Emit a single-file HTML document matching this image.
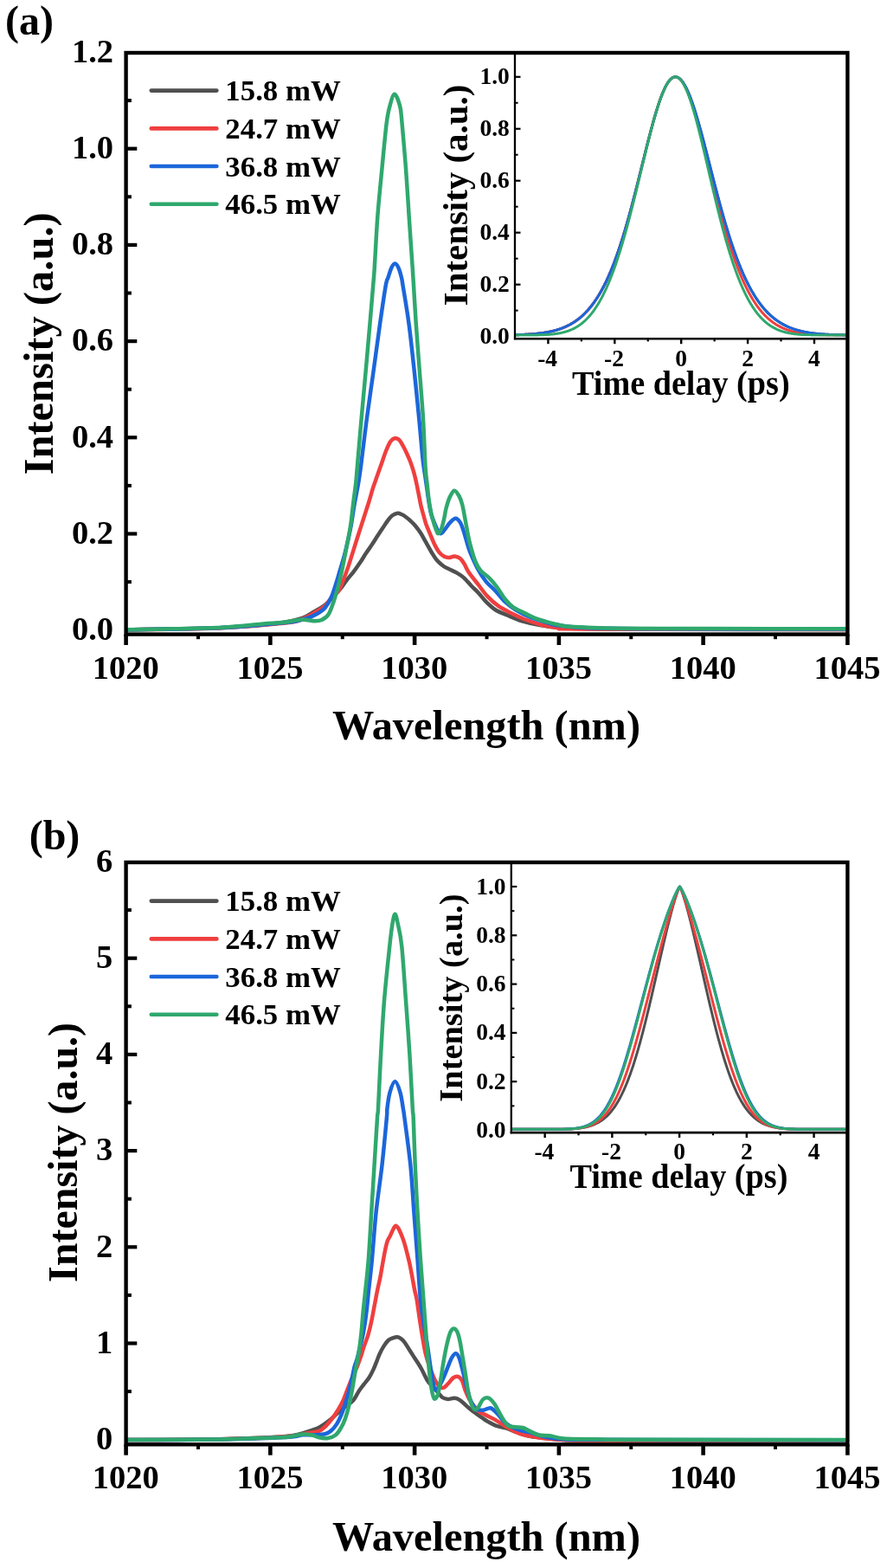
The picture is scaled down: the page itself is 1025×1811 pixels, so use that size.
<!DOCTYPE html>
<html><head><meta charset="utf-8"><title>Figure</title>
<style>html,body{margin:0;padding:0;background:#fff;width:1025px;height:1811px;overflow:hidden}svg{display:block}</style>
</head><body>
<svg width="1025" height="1811" viewBox="0 0 1025 1811" font-family="'Liberation Serif','Times New Roman',serif" font-weight="bold" fill="#000"><rect width="1025" height="1811" fill="#fff"/>
<path d="M147.00,727.30 C164.17,726.97 223.67,726.27 250.00,725.30 C276.33,724.33 291.67,722.63 305.00,721.50 C318.33,720.37 322.50,719.83 330.00,718.50 C337.50,717.17 344.67,715.42 350.00,713.50 C355.33,711.58 357.85,709.37 362.00,707.00 C366.15,704.63 370.67,702.67 374.90,699.30 C379.13,695.93 384.00,690.43 387.40,686.80 C390.80,683.17 393.03,680.38 395.30,677.50 C397.57,674.62 398.82,672.32 401.00,669.50 C403.18,666.68 405.77,664.05 408.40,660.60 C411.03,657.15 414.43,652.32 416.80,648.80 C419.17,645.28 420.48,642.70 422.60,639.50 C424.72,636.30 427.20,633.05 429.50,629.60 C431.80,626.15 434.15,622.27 436.40,618.80 C438.65,615.33 441.02,611.77 443.00,608.80 C444.98,605.83 446.55,603.25 448.30,601.00 C450.05,598.75 451.63,596.67 453.50,595.30 C455.37,593.93 457.67,592.97 459.50,592.80 C461.33,592.63 463.00,593.63 464.50,594.30 C466.00,594.97 466.97,595.68 468.50,596.80 C470.03,597.92 471.80,599.27 473.70,601.00 C475.60,602.73 477.82,604.73 479.90,607.20 C481.98,609.67 484.12,612.55 486.20,615.80 C488.28,619.05 490.33,623.05 492.40,626.70 C494.47,630.35 496.52,634.32 498.60,637.70 C500.68,641.08 502.55,644.28 504.90,647.00 C507.25,649.72 510.10,652.17 512.70,654.00 C515.30,655.83 517.90,656.68 520.50,658.00 C523.10,659.32 525.70,660.35 528.30,661.90 C530.90,663.45 533.32,664.78 536.10,667.30 C538.88,669.82 542.28,674.18 545.00,677.00 C547.72,679.82 549.60,681.17 552.40,684.20 C555.20,687.23 558.42,691.82 561.80,695.20 C565.18,698.58 568.53,701.90 572.70,704.50 C576.87,707.10 581.85,708.72 586.80,710.80 C591.75,712.88 596.42,715.18 602.40,717.00 C608.38,718.82 615.42,720.40 622.70,721.70 C629.98,723.00 636.55,724.03 646.10,724.80 C655.65,725.57 662.68,725.97 680.00,726.30 C697.32,726.63 700.17,726.68 750.00,726.80 C799.83,726.92 940.83,726.97 979.00,727.00" fill="none" stroke="#505050" stroke-width="4.5" stroke-linejoin="round" stroke-linecap="round"/>
<path d="M147.00,727.30 C164.17,727.00 219.50,726.80 250.00,725.50 C280.50,724.20 313.33,721.33 330.00,719.50 C346.67,717.67 344.35,716.52 350.00,714.50 C355.65,712.48 359.63,709.88 363.90,707.40 C368.17,704.92 372.25,702.67 375.60,699.60 C378.95,696.53 381.40,691.85 384.00,689.00 C386.60,686.15 389.08,685.67 391.20,682.50 C393.32,679.33 394.87,674.57 396.70,670.00 C398.53,665.43 400.25,660.83 402.20,655.10 C404.15,649.37 406.55,641.45 408.40,635.60 C410.25,629.75 411.23,626.47 413.30,620.00 C415.37,613.53 418.60,603.63 420.80,596.80 C423.00,589.97 424.78,584.58 426.50,579.00 C428.22,573.42 429.53,568.20 431.10,563.30 C432.67,558.40 434.30,554.15 435.90,549.60 C437.50,545.05 439.10,540.55 440.70,536.00 C442.30,531.45 443.90,526.40 445.50,522.30 C447.10,518.20 448.93,513.90 450.30,511.40 C451.67,508.90 452.45,508.15 453.70,507.30 C454.95,506.45 456.43,506.07 457.80,506.30 C459.17,506.53 460.53,507.17 461.90,508.70 C463.27,510.23 464.63,513.00 466.00,515.50 C467.37,518.00 468.73,520.73 470.10,523.70 C471.47,526.67 472.92,529.88 474.20,533.30 C475.48,536.72 476.70,540.42 477.80,544.20 C478.90,547.98 479.77,551.42 480.80,556.00 C481.83,560.58 483.08,567.13 484.00,571.70 C484.92,576.27 485.40,579.50 486.30,583.40 C487.20,587.30 488.42,591.52 489.40,595.10 C490.38,598.68 491.08,601.65 492.20,604.90 C493.32,608.15 494.97,611.83 496.10,614.60 C497.23,617.37 497.93,619.02 499.00,621.50 C500.07,623.98 501.15,626.87 502.50,629.50 C503.85,632.13 505.30,635.08 507.10,637.30 C508.90,639.52 511.23,641.68 513.30,642.80 C515.37,643.92 517.45,644.07 519.50,644.00 C521.55,643.93 523.55,642.22 525.60,642.40 C527.65,642.58 529.98,643.62 531.80,645.10 C533.62,646.58 534.88,648.68 536.50,651.30 C538.12,653.92 538.85,656.87 541.50,660.80 C544.15,664.73 548.75,670.22 552.40,674.90 C556.05,679.58 559.48,684.73 563.40,688.90 C567.32,693.07 571.48,696.77 575.90,699.90 C580.32,703.03 584.70,705.10 589.90,707.70 C595.10,710.30 601.12,713.17 607.10,715.50 C613.08,717.83 619.30,720.02 625.80,721.70 C632.30,723.38 637.07,724.80 646.10,725.60 C655.13,726.40 624.52,726.27 680.00,726.50 C735.48,726.73 929.17,726.92 979.00,727.00" fill="none" stroke="#ef3f3f" stroke-width="4.5" stroke-linejoin="round" stroke-linecap="round"/>
<path d="M147.00,727.30 C164.17,726.97 219.50,726.68 250.00,725.30 C280.50,723.92 313.33,720.63 330.00,719.00 C346.67,717.37 345.00,716.65 350.00,715.50 C355.00,714.35 357.03,713.32 360.00,712.10 C362.97,710.88 365.20,709.88 367.80,708.20 C370.40,706.52 373.13,704.98 375.60,702.00 C378.07,699.02 380.52,694.87 382.60,690.30 C384.68,685.73 386.40,679.82 388.10,674.60 C389.80,669.38 391.10,664.77 392.80,659.00 C394.50,653.23 396.63,646.33 398.30,640.00 C399.97,633.67 401.52,626.83 402.80,621.00 C404.08,615.17 404.83,611.63 406.00,605.00 C407.17,598.37 408.50,588.70 409.80,581.20 C411.10,573.70 412.60,567.10 413.80,560.00 C415.00,552.90 415.33,551.27 417.00,538.60 C418.67,525.93 421.38,502.22 423.80,484.00 C426.22,465.78 428.97,447.53 431.50,429.30 C434.03,411.07 436.63,391.15 439.00,374.60 C441.37,358.05 444.08,339.10 445.70,330.00 C447.32,320.90 447.57,323.50 448.70,320.00 C449.83,316.50 451.22,311.58 452.50,309.00 C453.78,306.42 455.10,304.50 456.40,304.50 C457.70,304.50 459.07,306.42 460.30,309.00 C461.53,311.58 462.92,316.50 463.80,320.00 C464.68,323.50 464.13,320.90 465.60,330.00 C467.07,339.10 470.40,358.05 472.60,374.60 C474.80,391.15 476.85,411.07 478.80,429.30 C480.75,447.53 482.68,467.22 484.30,484.00 C485.92,500.78 487.33,519.00 488.50,530.00 C489.67,541.00 490.45,544.00 491.30,550.00 C492.15,556.00 492.85,560.83 493.60,566.00 C494.35,571.17 495.02,576.33 495.80,581.00 C496.58,585.67 497.30,590.25 498.30,594.00 C499.30,597.75 500.68,600.67 501.80,603.50 C502.92,606.33 503.77,608.87 505.00,611.00 C506.23,613.13 507.63,616.30 509.20,616.30 C510.77,616.30 512.57,613.15 514.40,611.00 C516.23,608.85 518.20,605.45 520.20,603.40 C522.20,601.35 524.47,598.70 526.40,598.70 C528.33,598.70 530.25,600.95 531.80,603.40 C533.35,605.85 534.40,609.53 535.70,613.40 C537.00,617.27 538.37,622.60 539.60,626.60 C540.83,630.60 540.97,632.22 543.10,637.40 C545.23,642.58 549.28,651.97 552.40,657.70 C555.52,663.43 558.42,667.63 561.80,671.80 C565.18,675.97 569.05,678.80 572.70,682.70 C576.35,686.60 579.80,691.57 583.70,695.20 C587.60,698.83 591.42,701.65 596.10,704.50 C600.78,707.35 606.07,709.95 611.80,712.30 C617.53,714.65 624.78,716.90 630.50,718.60 C636.22,720.30 637.85,721.38 646.10,722.50 C654.35,723.62 662.68,724.67 680.00,725.30 C697.32,725.93 700.17,726.08 750.00,726.30 C799.83,726.52 940.83,726.55 979.00,726.60" fill="none" stroke="#1c66da" stroke-width="4.5" stroke-linejoin="round" stroke-linecap="round"/>
<path d="M147.00,727.30 C155.83,727.12 182.83,726.57 200.00,726.20 C217.17,725.83 236.47,725.68 250.00,725.10 C263.53,724.52 272.10,723.48 281.20,722.70 C290.30,721.92 296.80,721.05 304.60,720.40 C312.40,719.75 320.97,719.58 328.00,718.80 C335.03,718.02 342.13,716.12 346.80,715.70 C351.47,715.28 353.13,716.03 356.00,716.30 C358.87,716.57 361.38,717.35 364.00,717.30 C366.62,717.25 369.12,717.25 371.70,716.00 C374.28,714.75 377.15,713.43 379.50,709.80 C381.85,706.17 383.98,699.42 385.80,694.20 C387.62,688.98 388.85,684.37 390.40,678.50 C391.95,672.63 393.67,665.50 395.10,659.00 C396.53,652.50 397.72,646.00 399.00,639.50 C400.28,633.00 401.73,625.75 402.80,620.00 C403.87,614.25 404.50,611.47 405.40,605.00 C406.30,598.53 407.23,589.03 408.20,581.20 C409.17,573.37 410.42,565.10 411.20,558.00 C411.98,550.90 411.83,550.93 412.90,538.60 C413.97,526.27 415.98,502.22 417.60,484.00 C419.22,465.78 420.97,447.53 422.60,429.30 C424.23,411.07 425.83,392.82 427.40,374.60 C428.97,356.38 431.03,332.10 432.00,320.00 C432.97,307.90 432.47,313.83 433.20,302.00 C433.93,290.17 435.05,266.67 436.40,249.00 C437.75,231.33 439.60,213.67 441.30,196.00 C443.00,178.33 445.10,155.15 446.60,143.00 C448.10,130.85 448.75,128.80 450.30,123.10 C451.85,117.40 453.90,108.80 455.90,108.80 C457.90,108.80 460.85,117.40 462.30,123.10 C463.75,128.80 463.47,130.85 464.60,143.00 C465.73,155.15 467.77,178.33 469.10,196.00 C470.43,213.67 471.42,231.33 472.60,249.00 C473.78,266.67 475.40,290.17 476.20,302.00 C477.00,313.83 476.63,307.90 477.40,320.00 C478.17,332.10 479.55,356.38 480.80,374.60 C482.05,392.82 483.53,411.07 484.90,429.30 C486.27,447.53 487.88,465.55 489.00,484.00 C490.12,502.45 490.82,527.33 491.60,540.00 C492.38,552.67 493.15,554.72 493.70,560.00 C494.25,565.28 494.43,567.80 494.90,571.70 C495.37,575.60 495.85,579.50 496.50,583.40 C497.15,587.30 497.97,591.52 498.80,595.10 C499.63,598.68 500.58,601.97 501.50,604.90 C502.42,607.83 503.48,610.82 504.30,612.70 C505.12,614.58 505.43,616.53 506.40,616.20 C507.37,615.87 508.97,613.57 510.10,610.70 C511.23,607.83 512.30,602.90 513.20,599.00 C514.10,595.10 514.45,591.33 515.50,587.30 C516.55,583.27 517.93,578.23 519.50,574.80 C521.07,571.37 523.10,567.08 524.90,566.70 C526.70,566.32 528.77,569.87 530.30,572.50 C531.83,575.13 532.95,578.25 534.10,582.50 C535.25,586.75 536.22,592.85 537.20,598.00 C538.18,603.15 539.02,608.40 540.00,613.40 C540.98,618.40 541.55,622.18 543.10,628.00 C544.65,633.82 547.22,643.08 549.30,648.30 C551.38,653.52 553.00,656.17 555.60,659.30 C558.20,662.43 561.78,663.98 564.90,667.10 C568.02,670.22 571.17,673.85 574.30,678.00 C577.43,682.15 580.58,688.10 583.70,692.00 C586.82,695.90 589.37,698.78 593.00,701.40 C596.63,704.02 601.33,705.62 605.50,707.70 C609.67,709.78 613.83,712.22 618.00,713.90 C622.17,715.58 625.82,716.50 630.50,717.80 C635.18,719.10 642.00,720.73 646.10,721.70 C650.20,722.67 649.70,723.10 655.10,723.60 C660.50,724.10 668.08,724.35 678.50,724.70 C688.92,725.05 694.85,725.47 717.60,725.70 C740.35,725.93 771.43,726.00 815.00,726.10 C858.57,726.20 951.67,726.27 979.00,726.30" fill="none" stroke="#2fa86e" stroke-width="4.5" stroke-linejoin="round" stroke-linecap="round"/>
<rect x="595.00" y="61.00" width="384.40" height="330.20" fill="#fff"/>
<path d="M595.00,386.77 L595.48,386.75 L595.96,386.74 L596.44,386.73 L596.92,386.72 L597.40,386.70 L597.88,386.69 L598.36,386.68 L598.84,386.66 L599.32,386.65 L599.81,386.63 L600.29,386.61 L600.77,386.60 L601.25,386.58 L601.73,386.56 L602.21,386.55 L602.69,386.53 L603.17,386.51 L603.65,386.49 L604.13,386.47 L604.61,386.45 L605.09,386.43 L605.57,386.41 L606.05,386.38 L606.53,386.36 L607.01,386.34 L607.49,386.31 L607.97,386.29 L608.45,386.26 L608.93,386.24 L609.42,386.21 L609.90,386.18 L610.38,386.15 L610.86,386.12 L611.34,386.09 L611.82,386.06 L612.30,386.03 L612.78,386.00 L613.26,385.96 L613.74,385.93 L614.22,385.90 L614.70,385.86 L615.18,385.82 L615.66,385.78 L616.14,385.75 L616.62,385.71 L617.10,385.66 L617.58,385.62 L618.06,385.58 L618.54,385.54 L619.03,385.49 L619.51,385.44 L619.99,385.40 L620.47,385.35 L620.95,385.30 L621.43,385.25 L621.91,385.19 L622.39,385.14 L622.87,385.08 L623.35,385.03 L623.83,384.97 L624.31,384.91 L624.79,384.85 L625.27,384.79 L625.75,384.73 L626.23,384.66 L626.71,384.59 L627.19,384.53 L627.67,384.46 L628.15,384.39 L628.63,384.31 L629.12,384.24 L629.60,384.16 L630.08,384.09 L630.56,384.01 L631.04,383.92 L631.52,383.84 L632.00,383.76 L632.48,383.67 L632.96,383.58 L633.44,383.49 L633.92,383.40 L634.40,383.30 L634.88,383.20 L635.36,383.10 L635.84,383.00 L636.32,382.90 L636.80,382.79 L637.28,382.69 L637.76,382.58 L638.25,382.46 L638.73,382.35 L639.21,382.23 L639.69,382.11 L640.17,381.99 L640.65,381.86 L641.13,381.73 L641.61,381.60 L642.09,381.47 L642.57,381.33 L643.05,381.20 L643.53,381.05 L644.01,380.91 L644.49,380.76 L644.97,380.61 L645.45,380.46 L645.93,380.30 L646.41,380.14 L646.89,379.98 L647.37,379.81 L647.86,379.64 L648.34,379.47 L648.82,379.30 L649.30,379.12 L649.78,378.93 L650.26,378.75 L650.74,378.56 L651.22,378.36 L651.70,378.16 L652.18,377.96 L652.66,377.76 L653.14,377.55 L653.62,377.34 L654.10,377.12 L654.58,376.90 L655.06,376.67 L655.54,376.44 L656.02,376.21 L656.50,375.97 L656.98,375.73 L657.47,375.48 L657.95,375.23 L658.43,374.97 L658.91,374.71 L659.39,374.44 L659.87,374.17 L660.35,373.90 L660.83,373.62 L661.31,373.33 L661.79,373.04 L662.27,372.74 L662.75,372.44 L663.23,372.14 L663.71,371.82 L664.19,371.51 L664.67,371.18 L665.15,370.86 L665.63,370.52 L666.11,370.18 L666.59,369.84 L667.08,369.48 L667.56,369.13 L668.04,368.76 L668.52,368.39 L669.00,368.01 L669.48,367.63 L669.96,367.24 L670.44,366.85 L670.92,366.44 L671.40,366.03 L671.88,365.62 L672.36,365.19 L672.84,364.76 L673.32,364.33 L673.80,363.88 L674.28,363.43 L674.76,362.97 L675.24,362.50 L675.72,362.03 L676.20,361.55 L676.69,361.06 L677.17,360.56 L677.65,360.06 L678.13,359.54 L678.61,359.02 L679.09,358.49 L679.57,357.96 L680.05,357.41 L680.53,356.85 L681.01,356.29 L681.49,355.72 L681.97,355.14 L682.45,354.55 L682.93,353.95 L683.41,353.34 L683.89,352.72 L684.37,352.10 L684.85,351.46 L685.33,350.82 L685.81,350.16 L686.30,349.50 L686.78,348.82 L687.26,348.14 L687.74,347.44 L688.22,346.74 L688.70,346.03 L689.18,345.30 L689.66,344.56 L690.14,343.82 L690.62,343.06 L691.10,342.29 L691.58,341.52 L692.06,340.73 L692.54,339.93 L693.02,339.11 L693.50,338.29 L693.98,337.46 L694.46,336.61 L694.94,335.76 L695.42,334.89 L695.91,334.01 L696.39,333.11 L696.87,332.21 L697.35,331.29 L697.83,330.37 L698.31,329.42 L698.79,328.47 L699.27,327.51 L699.75,326.53 L700.23,325.54 L700.71,324.54 L701.19,323.52 L701.67,322.49 L702.15,321.45 L702.63,320.40 L703.11,319.33 L703.59,318.25 L704.07,317.16 L704.55,316.05 L705.03,314.93 L705.52,313.80 L706.00,312.65 L706.48,311.49 L706.96,310.31 L707.44,309.13 L707.92,307.93 L708.40,306.71 L708.88,305.48 L709.36,304.24 L709.84,302.98 L710.32,301.71 L710.80,300.43 L711.28,299.13 L711.76,297.82 L712.24,296.49 L712.72,295.15 L713.20,293.80 L713.68,292.43 L714.16,291.05 L714.64,289.66 L715.12,288.25 L715.61,286.83 L716.09,285.39 L716.57,283.94 L717.05,282.47 L717.53,280.99 L718.01,279.50 L718.49,278.00 L718.97,276.48 L719.45,274.95 L719.93,273.40 L720.41,271.84 L720.89,270.27 L721.37,268.68 L721.85,267.08 L722.33,265.47 L722.81,263.84 L723.29,262.21 L723.77,260.56 L724.25,258.89 L724.74,257.22 L725.22,255.53 L725.70,253.83 L726.18,252.12 L726.66,250.40 L727.14,248.66 L727.62,246.92 L728.10,245.16 L728.58,243.40 L729.06,241.62 L729.54,239.83 L730.02,238.03 L730.50,236.22 L730.98,234.41 L731.46,232.58 L731.94,230.74 L732.42,228.90 L732.90,227.05 L733.38,225.19 L733.86,223.32 L734.35,221.44 L734.83,219.56 L735.31,217.67 L735.79,215.77 L736.27,213.87 L736.75,211.96 L737.23,210.05 L737.71,208.14 L738.19,206.21 L738.67,204.29 L739.15,202.36 L739.63,200.43 L740.11,198.50 L740.59,196.56 L741.07,194.62 L741.55,192.68 L742.03,190.75 L742.51,188.81 L742.99,186.87 L743.47,184.93 L743.96,183.00 L744.44,181.06 L744.92,179.13 L745.40,177.21 L745.88,175.28 L746.36,173.37 L746.84,171.45 L747.32,169.54 L747.80,167.64 L748.28,165.75 L748.76,163.86 L749.24,161.98 L749.72,160.12 L750.20,158.26 L750.68,156.41 L751.16,154.57 L751.64,152.74 L752.12,150.93 L752.60,149.12 L753.08,147.34 L753.57,145.56 L754.05,143.80 L754.53,142.06 L755.01,140.33 L755.49,138.62 L755.97,136.93 L756.45,135.26 L756.93,133.60 L757.41,131.97 L757.89,130.36 L758.37,128.76 L758.85,127.19 L759.33,125.64 L759.81,124.12 L760.29,122.62 L760.77,121.14 L761.25,119.69 L761.73,118.26 L762.21,116.87 L762.69,115.49 L763.18,114.15 L763.66,112.84 L764.14,111.55 L764.62,110.29 L765.10,109.07 L765.58,107.87 L766.06,106.71 L766.54,105.58 L767.02,104.48 L767.50,103.42 L767.98,102.39 L768.46,101.39 L768.94,100.43 L769.42,99.50 L769.90,98.61 L770.38,97.76 L770.86,96.94 L771.34,96.16 L771.82,95.41 L772.30,94.71 L772.79,94.04 L773.27,93.41 L773.75,92.82 L774.23,92.27 L774.71,91.76 L775.19,91.29 L775.67,90.86 L776.15,90.47 L776.63,90.12 L777.11,89.81 L777.59,89.54 L778.07,89.32 L778.55,89.13 L779.03,88.99 L779.51,88.88 L779.99,88.82 L780.47,88.80 L780.95,88.82 L781.43,88.88 L781.91,88.97 L782.40,89.11 L782.88,89.28 L783.36,89.50 L783.84,89.75 L784.32,90.04 L784.80,90.37 L785.28,90.73 L785.76,91.14 L786.24,91.58 L786.72,92.06 L787.20,92.57 L787.68,93.12 L788.16,93.71 L788.64,94.34 L789.12,95.00 L789.60,95.70 L790.08,96.43 L790.56,97.20 L791.04,98.00 L791.52,98.84 L792.00,99.71 L792.49,100.61 L792.97,101.55 L793.45,102.52 L793.93,103.52 L794.41,104.55 L794.89,105.62 L795.37,106.71 L795.85,107.84 L796.33,108.99 L796.81,110.18 L797.29,111.39 L797.77,112.63 L798.25,113.90 L798.73,115.19 L799.21,116.51 L799.69,117.86 L800.17,119.23 L800.65,120.63 L801.13,122.05 L801.62,123.50 L802.10,124.96 L802.58,126.45 L803.06,127.96 L803.54,129.49 L804.02,131.04 L804.50,132.62 L804.98,134.21 L805.46,135.81 L805.94,137.44 L806.42,139.08 L806.90,140.74 L807.38,142.42 L807.86,144.11 L808.34,145.82 L808.82,147.54 L809.30,149.27 L809.78,151.02 L810.26,152.77 L810.74,154.54 L811.23,156.33 L811.71,158.12 L812.19,159.92 L812.67,161.73 L813.15,163.55 L813.63,165.37 L814.11,167.21 L814.59,169.05 L815.07,170.89 L815.55,172.74 L816.03,174.60 L816.51,176.46 L816.99,178.33 L817.47,180.20 L817.95,182.07 L818.43,183.95 L818.91,185.82 L819.39,187.70 L819.87,189.58 L820.35,191.46 L820.84,193.34 L821.32,195.22 L821.80,197.10 L822.28,198.97 L822.76,200.85 L823.24,202.72 L823.72,204.59 L824.20,206.46 L824.68,208.32 L825.16,210.18 L825.64,212.04 L826.12,213.89 L826.60,215.73 L827.08,217.57 L827.56,219.40 L828.04,221.23 L828.52,223.05 L829.00,224.87 L829.48,226.68 L829.96,228.48 L830.45,230.27 L830.93,232.05 L831.41,233.83 L831.89,235.60 L832.37,237.35 L832.85,239.10 L833.33,240.84 L833.81,242.58 L834.29,244.30 L834.77,246.01 L835.25,247.71 L835.73,249.40 L836.21,251.08 L836.69,252.75 L837.17,254.41 L837.65,256.06 L838.13,257.69 L838.61,259.32 L839.09,260.93 L839.57,262.53 L840.06,264.12 L840.54,265.70 L841.02,267.27 L841.50,268.82 L841.98,270.36 L842.46,271.89 L842.94,273.41 L843.42,274.92 L843.90,276.41 L844.38,277.89 L844.86,279.35 L845.34,280.81 L845.82,282.25 L846.30,283.68 L846.78,285.09 L847.26,286.49 L847.74,287.88 L848.22,289.26 L848.70,290.62 L849.18,291.97 L849.67,293.31 L850.15,294.63 L850.63,295.95 L851.11,297.24 L851.59,298.53 L852.07,299.80 L852.55,301.06 L853.03,302.30 L853.51,303.54 L853.99,304.76 L854.47,305.96 L854.95,307.16 L855.43,308.34 L855.91,309.51 L856.39,310.66 L856.87,311.80 L857.35,312.93 L857.83,314.05 L858.31,315.15 L858.79,316.24 L859.28,317.32 L859.76,318.39 L860.24,319.44 L860.72,320.49 L861.20,321.52 L861.68,322.53 L862.16,323.54 L862.64,324.53 L863.12,325.51 L863.60,326.48 L864.08,327.44 L864.56,328.38 L865.04,329.32 L865.52,330.24 L866.00,331.15 L866.48,332.05 L866.96,332.94 L867.44,333.81 L867.92,334.68 L868.40,335.53 L868.88,336.37 L869.37,337.21 L869.85,338.03 L870.33,338.84 L870.81,339.64 L871.29,340.43 L871.77,341.20 L872.25,341.97 L872.73,342.73 L873.21,343.48 L873.69,344.21 L874.17,344.94 L874.65,345.66 L875.13,346.36 L875.61,347.06 L876.09,347.75 L876.57,348.43 L877.05,349.10 L877.53,349.76 L878.01,350.40 L878.50,351.05 L878.98,351.68 L879.46,352.30 L879.94,352.91 L880.42,353.52 L880.90,354.11 L881.38,354.70 L881.86,355.28 L882.34,355.85 L882.82,356.41 L883.30,356.96 L883.78,357.51 L884.26,358.04 L884.74,358.57 L885.22,359.09 L885.70,359.61 L886.18,360.11 L886.66,360.61 L887.14,361.10 L887.62,361.58 L888.11,362.05 L888.59,362.52 L889.07,362.98 L889.55,363.44 L890.03,363.88 L890.51,364.32 L890.99,364.75 L891.47,365.18 L891.95,365.60 L892.43,366.01 L892.91,366.41 L893.39,366.81 L893.87,367.20 L894.35,367.59 L894.83,367.97 L895.31,368.34 L895.79,368.71 L896.27,369.07 L896.75,369.43 L897.23,369.78 L897.72,370.12 L898.20,370.46 L898.68,370.79 L899.16,371.12 L899.64,371.44 L900.12,371.75 L900.60,372.06 L901.08,372.37 L901.56,372.67 L902.04,372.96 L902.52,373.25 L903.00,373.54 L903.48,373.82 L903.96,374.09 L904.44,374.36 L904.92,374.63 L905.40,374.89 L905.88,375.15 L906.36,375.40 L906.84,375.64 L907.33,375.89 L907.81,376.13 L908.29,376.36 L908.77,376.59 L909.25,376.82 L909.73,377.04 L910.21,377.25 L910.69,377.47 L911.17,377.68 L911.65,377.88 L912.13,378.09 L912.61,378.28 L913.09,378.48 L913.57,378.67 L914.05,378.86 L914.53,379.04 L915.01,379.22 L915.49,379.40 L915.97,379.57 L916.45,379.74 L916.94,379.91 L917.42,380.07 L917.90,380.23 L918.38,380.39 L918.86,380.55 L919.34,380.70 L919.82,380.85 L920.30,380.99 L920.78,381.13 L921.26,381.27 L921.74,381.41 L922.22,381.54 L922.70,381.68 L923.18,381.80 L923.66,381.93 L924.14,382.05 L924.62,382.18 L925.10,382.29 L925.58,382.41 L926.06,382.52 L926.55,382.64 L927.03,382.75 L927.51,382.85 L927.99,382.96 L928.47,383.06 L928.95,383.16 L929.43,383.26 L929.91,383.35 L930.39,383.45 L930.87,383.54 L931.35,383.63 L931.83,383.72 L932.31,383.80 L932.79,383.89 L933.27,383.97 L933.75,384.05 L934.23,384.13 L934.71,384.21 L935.19,384.28 L935.67,384.36 L936.15,384.43 L936.64,384.50 L937.12,384.57 L937.60,384.63 L938.08,384.70 L938.56,384.76 L939.04,384.83 L939.52,384.89 L940.00,384.95 L940.48,385.01 L940.96,385.06 L941.44,385.12 L941.92,385.17 L942.40,385.23 L942.88,385.28 L943.36,385.33 L943.84,385.38 L944.32,385.43 L944.80,385.47 L945.28,385.52 L945.77,385.56 L946.25,385.61 L946.73,385.65 L947.21,385.69 L947.69,385.73 L948.17,385.77 L948.65,385.81 L949.13,385.85 L949.61,385.88 L950.09,385.92 L950.57,385.96 L951.05,385.99 L951.53,386.02 L952.01,386.05 L952.49,386.09 L952.97,386.12 L953.45,386.15 L953.93,386.17 L954.41,386.20 L954.89,386.23 L955.38,386.26 L955.86,386.28 L956.34,386.31 L956.82,386.33 L957.30,386.36 L957.78,386.38 L958.26,386.40 L958.74,386.42 L959.22,386.45 L959.70,386.47 L960.18,386.49 L960.66,386.51 L961.14,386.53 L961.62,386.54 L962.10,386.56 L962.58,386.58 L963.06,386.60 L963.54,386.61 L964.02,386.63 L964.50,386.65 L964.99,386.66 L965.47,386.67 L965.95,386.69 L966.43,386.70 L966.91,386.72 L967.39,386.73 L967.87,386.74 L968.35,386.75 L968.83,386.77 L969.31,386.78 L969.79,386.79 L970.27,386.80 L970.75,386.81 L971.23,386.82 L971.71,386.83 L972.19,386.84 L972.67,386.85 L973.15,386.86 L973.63,386.87 L974.11,386.88 L974.60,386.88 L975.08,386.89 L975.56,386.90 L976.04,386.91 L976.52,386.91 L977.00,386.92 L977.48,386.93 L977.96,386.93 L978.44,386.94 L978.92,386.95 L979.40,386.95" fill="none" stroke="#505050" stroke-width="3.0" stroke-linejoin="round"/>
<path d="M595.00,386.77 L595.48,386.75 L595.96,386.74 L596.44,386.73 L596.92,386.72 L597.40,386.70 L597.88,386.69 L598.36,386.68 L598.84,386.66 L599.32,386.65 L599.81,386.63 L600.29,386.61 L600.77,386.60 L601.25,386.58 L601.73,386.56 L602.21,386.55 L602.69,386.53 L603.17,386.51 L603.65,386.49 L604.13,386.47 L604.61,386.45 L605.09,386.43 L605.57,386.41 L606.05,386.38 L606.53,386.36 L607.01,386.34 L607.49,386.31 L607.97,386.29 L608.45,386.26 L608.93,386.24 L609.42,386.21 L609.90,386.18 L610.38,386.15 L610.86,386.12 L611.34,386.09 L611.82,386.06 L612.30,386.03 L612.78,386.00 L613.26,385.96 L613.74,385.93 L614.22,385.90 L614.70,385.86 L615.18,385.82 L615.66,385.78 L616.14,385.75 L616.62,385.71 L617.10,385.66 L617.58,385.62 L618.06,385.58 L618.54,385.54 L619.03,385.49 L619.51,385.44 L619.99,385.40 L620.47,385.35 L620.95,385.30 L621.43,385.25 L621.91,385.19 L622.39,385.14 L622.87,385.08 L623.35,385.03 L623.83,384.97 L624.31,384.91 L624.79,384.85 L625.27,384.79 L625.75,384.73 L626.23,384.66 L626.71,384.59 L627.19,384.53 L627.67,384.46 L628.15,384.39 L628.63,384.31 L629.12,384.24 L629.60,384.16 L630.08,384.09 L630.56,384.01 L631.04,383.92 L631.52,383.84 L632.00,383.76 L632.48,383.67 L632.96,383.58 L633.44,383.49 L633.92,383.40 L634.40,383.30 L634.88,383.20 L635.36,383.10 L635.84,383.00 L636.32,382.90 L636.80,382.79 L637.28,382.69 L637.76,382.58 L638.25,382.46 L638.73,382.35 L639.21,382.23 L639.69,382.11 L640.17,381.99 L640.65,381.86 L641.13,381.73 L641.61,381.60 L642.09,381.47 L642.57,381.33 L643.05,381.20 L643.53,381.05 L644.01,380.91 L644.49,380.76 L644.97,380.61 L645.45,380.46 L645.93,380.30 L646.41,380.14 L646.89,379.98 L647.37,379.81 L647.86,379.64 L648.34,379.47 L648.82,379.30 L649.30,379.12 L649.78,378.93 L650.26,378.75 L650.74,378.56 L651.22,378.36 L651.70,378.16 L652.18,377.96 L652.66,377.76 L653.14,377.55 L653.62,377.34 L654.10,377.12 L654.58,376.90 L655.06,376.67 L655.54,376.44 L656.02,376.21 L656.50,375.97 L656.98,375.73 L657.47,375.48 L657.95,375.23 L658.43,374.97 L658.91,374.71 L659.39,374.44 L659.87,374.17 L660.35,373.90 L660.83,373.62 L661.31,373.33 L661.79,373.04 L662.27,372.74 L662.75,372.44 L663.23,372.14 L663.71,371.82 L664.19,371.51 L664.67,371.18 L665.15,370.86 L665.63,370.52 L666.11,370.18 L666.59,369.84 L667.08,369.48 L667.56,369.13 L668.04,368.76 L668.52,368.39 L669.00,368.01 L669.48,367.63 L669.96,367.24 L670.44,366.85 L670.92,366.44 L671.40,366.03 L671.88,365.62 L672.36,365.19 L672.84,364.76 L673.32,364.33 L673.80,363.88 L674.28,363.43 L674.76,362.97 L675.24,362.50 L675.72,362.03 L676.20,361.55 L676.69,361.06 L677.17,360.56 L677.65,360.06 L678.13,359.54 L678.61,359.02 L679.09,358.49 L679.57,357.96 L680.05,357.41 L680.53,356.85 L681.01,356.29 L681.49,355.72 L681.97,355.14 L682.45,354.55 L682.93,353.95 L683.41,353.34 L683.89,352.72 L684.37,352.10 L684.85,351.46 L685.33,350.82 L685.81,350.16 L686.30,349.50 L686.78,348.82 L687.26,348.14 L687.74,347.44 L688.22,346.74 L688.70,346.03 L689.18,345.30 L689.66,344.56 L690.14,343.82 L690.62,343.06 L691.10,342.29 L691.58,341.52 L692.06,340.73 L692.54,339.93 L693.02,339.11 L693.50,338.29 L693.98,337.46 L694.46,336.61 L694.94,335.76 L695.42,334.89 L695.91,334.01 L696.39,333.11 L696.87,332.21 L697.35,331.29 L697.83,330.37 L698.31,329.42 L698.79,328.47 L699.27,327.51 L699.75,326.53 L700.23,325.54 L700.71,324.54 L701.19,323.52 L701.67,322.49 L702.15,321.45 L702.63,320.40 L703.11,319.33 L703.59,318.25 L704.07,317.16 L704.55,316.05 L705.03,314.93 L705.52,313.80 L706.00,312.65 L706.48,311.49 L706.96,310.31 L707.44,309.13 L707.92,307.93 L708.40,306.71 L708.88,305.48 L709.36,304.24 L709.84,302.98 L710.32,301.71 L710.80,300.43 L711.28,299.13 L711.76,297.82 L712.24,296.49 L712.72,295.15 L713.20,293.80 L713.68,292.43 L714.16,291.05 L714.64,289.66 L715.12,288.25 L715.61,286.83 L716.09,285.39 L716.57,283.94 L717.05,282.47 L717.53,280.99 L718.01,279.50 L718.49,278.00 L718.97,276.48 L719.45,274.95 L719.93,273.40 L720.41,271.84 L720.89,270.27 L721.37,268.68 L721.85,267.08 L722.33,265.47 L722.81,263.84 L723.29,262.21 L723.77,260.56 L724.25,258.89 L724.74,257.22 L725.22,255.53 L725.70,253.83 L726.18,252.12 L726.66,250.40 L727.14,248.66 L727.62,246.92 L728.10,245.16 L728.58,243.40 L729.06,241.62 L729.54,239.83 L730.02,238.03 L730.50,236.22 L730.98,234.41 L731.46,232.58 L731.94,230.74 L732.42,228.90 L732.90,227.05 L733.38,225.19 L733.86,223.32 L734.35,221.44 L734.83,219.56 L735.31,217.67 L735.79,215.77 L736.27,213.87 L736.75,211.96 L737.23,210.05 L737.71,208.14 L738.19,206.21 L738.67,204.29 L739.15,202.36 L739.63,200.43 L740.11,198.50 L740.59,196.56 L741.07,194.62 L741.55,192.68 L742.03,190.75 L742.51,188.81 L742.99,186.87 L743.47,184.93 L743.96,183.00 L744.44,181.06 L744.92,179.13 L745.40,177.21 L745.88,175.28 L746.36,173.37 L746.84,171.45 L747.32,169.54 L747.80,167.64 L748.28,165.75 L748.76,163.86 L749.24,161.98 L749.72,160.12 L750.20,158.26 L750.68,156.41 L751.16,154.57 L751.64,152.74 L752.12,150.93 L752.60,149.12 L753.08,147.34 L753.57,145.56 L754.05,143.80 L754.53,142.06 L755.01,140.33 L755.49,138.62 L755.97,136.93 L756.45,135.26 L756.93,133.60 L757.41,131.97 L757.89,130.36 L758.37,128.76 L758.85,127.19 L759.33,125.64 L759.81,124.12 L760.29,122.62 L760.77,121.14 L761.25,119.69 L761.73,118.26 L762.21,116.87 L762.69,115.49 L763.18,114.15 L763.66,112.84 L764.14,111.55 L764.62,110.29 L765.10,109.07 L765.58,107.87 L766.06,106.71 L766.54,105.58 L767.02,104.48 L767.50,103.42 L767.98,102.39 L768.46,101.39 L768.94,100.43 L769.42,99.50 L769.90,98.61 L770.38,97.76 L770.86,96.94 L771.34,96.16 L771.82,95.41 L772.30,94.71 L772.79,94.04 L773.27,93.41 L773.75,92.82 L774.23,92.27 L774.71,91.76 L775.19,91.29 L775.67,90.86 L776.15,90.47 L776.63,90.12 L777.11,89.81 L777.59,89.54 L778.07,89.32 L778.55,89.13 L779.03,88.99 L779.51,88.88 L779.99,88.82 L780.47,88.80 L780.95,88.82 L781.43,88.88 L781.91,88.99 L782.40,89.13 L782.88,89.32 L783.36,89.54 L783.84,89.81 L784.32,90.12 L784.80,90.47 L785.28,90.86 L785.76,91.29 L786.24,91.76 L786.72,92.27 L787.20,92.83 L787.68,93.41 L788.16,94.04 L788.64,94.71 L789.12,95.42 L789.60,96.16 L790.08,96.94 L790.56,97.76 L791.04,98.62 L791.52,99.51 L792.00,100.43 L792.49,101.40 L792.97,102.40 L793.45,103.43 L793.93,104.49 L794.41,105.59 L794.89,106.73 L795.37,107.89 L795.85,109.09 L796.33,110.32 L796.81,111.57 L797.29,112.86 L797.77,114.18 L798.25,115.53 L798.73,116.90 L799.21,118.31 L799.69,119.74 L800.17,121.19 L800.65,122.67 L801.13,124.18 L801.62,125.71 L802.10,127.26 L802.58,128.84 L803.06,130.44 L803.54,132.06 L804.02,133.70 L804.50,135.36 L804.98,137.05 L805.46,138.75 L805.94,140.46 L806.42,142.20 L806.90,143.95 L807.38,145.72 L807.86,147.51 L808.34,149.30 L808.82,151.12 L809.30,152.94 L809.78,154.78 L810.26,156.63 L810.74,158.50 L811.23,160.37 L811.71,162.25 L812.19,164.15 L812.67,166.05 L813.15,167.96 L813.63,169.87 L814.11,171.80 L814.59,173.73 L815.07,175.66 L815.55,177.61 L816.03,179.55 L816.51,181.50 L816.99,183.45 L817.47,185.41 L817.95,187.36 L818.43,189.32 L818.91,191.28 L819.39,193.24 L819.87,195.20 L820.35,197.16 L820.84,199.12 L821.32,201.08 L821.80,203.04 L822.28,204.99 L822.76,206.94 L823.24,208.89 L823.72,210.83 L824.20,212.77 L824.68,214.70 L825.16,216.63 L825.64,218.55 L826.12,220.47 L826.60,222.38 L827.08,224.28 L827.56,226.18 L828.04,228.07 L828.52,229.95 L829.00,231.83 L829.48,233.69 L829.96,235.55 L830.45,237.40 L830.93,239.24 L831.41,241.07 L831.89,242.89 L832.37,244.70 L832.85,246.50 L833.33,248.28 L833.81,250.06 L834.29,251.83 L834.77,253.58 L835.25,255.33 L835.73,257.06 L836.21,258.78 L836.69,260.49 L837.17,262.19 L837.65,263.87 L838.13,265.54 L838.61,267.20 L839.09,268.85 L839.57,270.48 L840.06,272.10 L840.54,273.71 L841.02,275.30 L841.50,276.88 L841.98,278.45 L842.46,280.00 L842.94,281.54 L843.42,283.06 L843.90,284.58 L844.38,286.07 L844.86,287.56 L845.34,289.03 L845.82,290.48 L846.30,291.93 L846.78,293.35 L847.26,294.77 L847.74,296.17 L848.22,297.55 L848.70,298.93 L849.18,300.28 L849.67,301.63 L850.15,302.95 L850.63,304.27 L851.11,305.57 L851.59,306.86 L852.07,308.13 L852.55,309.39 L853.03,310.63 L853.51,311.86 L853.99,313.08 L854.47,314.28 L854.95,315.47 L855.43,316.64 L855.91,317.80 L856.39,318.95 L856.87,320.08 L857.35,321.20 L857.83,322.31 L858.31,323.40 L858.79,324.48 L859.28,325.54 L859.76,326.60 L860.24,327.63 L860.72,328.66 L861.20,329.67 L861.68,330.67 L862.16,331.66 L862.64,332.63 L863.12,333.59 L863.60,334.54 L864.08,335.47 L864.56,336.40 L865.04,337.31 L865.52,338.20 L866.00,339.09 L866.48,339.96 L866.96,340.82 L867.44,341.67 L867.92,342.51 L868.40,343.34 L868.88,344.15 L869.37,344.95 L869.85,345.74 L870.33,346.52 L870.81,347.29 L871.29,348.04 L871.77,348.79 L872.25,349.52 L872.73,350.25 L873.21,350.96 L873.69,351.66 L874.17,352.35 L874.65,353.03 L875.13,353.70 L875.61,354.36 L876.09,355.01 L876.57,355.65 L877.05,356.28 L877.53,356.90 L878.01,357.51 L878.50,358.11 L878.98,358.70 L879.46,359.28 L879.94,359.85 L880.42,360.41 L880.90,360.97 L881.38,361.51 L881.86,362.05 L882.34,362.57 L882.82,363.09 L883.30,363.60 L883.78,364.10 L884.26,364.59 L884.74,365.07 L885.22,365.55 L885.70,366.01 L886.18,366.47 L886.66,366.92 L887.14,367.36 L887.62,367.80 L888.11,368.23 L888.59,368.65 L889.07,369.06 L889.55,369.46 L890.03,369.86 L890.51,370.25 L890.99,370.63 L891.47,371.01 L891.95,371.38 L892.43,371.74 L892.91,372.09 L893.39,372.44 L893.87,372.78 L894.35,373.12 L894.83,373.45 L895.31,373.77 L895.79,374.09 L896.27,374.40 L896.75,374.70 L897.23,375.00 L897.72,375.30 L898.20,375.58 L898.68,375.86 L899.16,376.14 L899.64,376.41 L900.12,376.67 L900.60,376.93 L901.08,377.19 L901.56,377.44 L902.04,377.68 L902.52,377.92 L903.00,378.15 L903.48,378.38 L903.96,378.61 L904.44,378.82 L904.92,379.04 L905.40,379.25 L905.88,379.45 L906.36,379.66 L906.84,379.85 L907.33,380.04 L907.81,380.23 L908.29,380.42 L908.77,380.60 L909.25,380.77 L909.73,380.94 L910.21,381.11 L910.69,381.28 L911.17,381.44 L911.65,381.59 L912.13,381.75 L912.61,381.90 L913.09,382.04 L913.57,382.19 L914.05,382.33 L914.53,382.46 L915.01,382.59 L915.49,382.72 L915.97,382.85 L916.45,382.97 L916.94,383.09 L917.42,383.21 L917.90,383.33 L918.38,383.44 L918.86,383.55 L919.34,383.65 L919.82,383.76 L920.30,383.86 L920.78,383.96 L921.26,384.05 L921.74,384.15 L922.22,384.24 L922.70,384.33 L923.18,384.41 L923.66,384.50 L924.14,384.58 L924.62,384.66 L925.10,384.73 L925.58,384.81 L926.06,384.88 L926.55,384.95 L927.03,385.02 L927.51,385.09 L927.99,385.16 L928.47,385.22 L928.95,385.28 L929.43,385.34 L929.91,385.40 L930.39,385.46 L930.87,385.51 L931.35,385.57 L931.83,385.62 L932.31,385.67 L932.79,385.72 L933.27,385.77 L933.75,385.81 L934.23,385.86 L934.71,385.90 L935.19,385.94 L935.67,385.98 L936.15,386.02 L936.64,386.06 L937.12,386.10 L937.60,386.14 L938.08,386.17 L938.56,386.21 L939.04,386.24 L939.52,386.27 L940.00,386.30 L940.48,386.33 L940.96,386.36 L941.44,386.39 L941.92,386.41 L942.40,386.44 L942.88,386.47 L943.36,386.49 L943.84,386.51 L944.32,386.54 L944.80,386.56 L945.28,386.58 L945.77,386.60 L946.25,386.62 L946.73,386.64 L947.21,386.66 L947.69,386.68 L948.17,386.69 L948.65,386.71 L949.13,386.72 L949.61,386.74 L950.09,386.76 L950.57,386.77 L951.05,386.78 L951.53,386.80 L952.01,386.81 L952.49,386.82 L952.97,386.83 L953.45,386.84 L953.93,386.86 L954.41,386.87 L954.89,386.88 L955.38,386.89 L955.86,386.90 L956.34,386.90 L956.82,386.91 L957.30,386.92 L957.78,386.93 L958.26,386.94 L958.74,386.94 L959.22,386.95 L959.70,386.96 L960.18,386.97 L960.66,386.97 L961.14,386.98 L961.62,386.98 L962.10,386.99 L962.58,386.99 L963.06,387.00 L963.54,387.00 L964.02,387.01 L964.50,387.01 L964.99,387.02 L965.47,387.02 L965.95,387.03 L966.43,387.03 L966.91,387.03 L967.39,387.04 L967.87,387.04 L968.35,387.04 L968.83,387.05 L969.31,387.05 L969.79,387.05 L970.27,387.05 L970.75,387.06 L971.23,387.06 L971.71,387.06 L972.19,387.06 L972.67,387.06 L973.15,387.07 L973.63,387.07 L974.11,387.07 L974.60,387.07 L975.08,387.07 L975.56,387.07 L976.04,387.08 L976.52,387.08 L977.00,387.08 L977.48,387.08 L977.96,387.08 L978.44,387.08 L978.92,387.08 L979.40,387.08" fill="none" stroke="#ef3f3f" stroke-width="3.0" stroke-linejoin="round"/>
<path d="M595.00,386.77 L595.48,386.75 L595.96,386.74 L596.44,386.73 L596.92,386.72 L597.40,386.70 L597.88,386.69 L598.36,386.68 L598.84,386.66 L599.32,386.65 L599.81,386.63 L600.29,386.61 L600.77,386.60 L601.25,386.58 L601.73,386.56 L602.21,386.55 L602.69,386.53 L603.17,386.51 L603.65,386.49 L604.13,386.47 L604.61,386.45 L605.09,386.43 L605.57,386.41 L606.05,386.38 L606.53,386.36 L607.01,386.34 L607.49,386.31 L607.97,386.29 L608.45,386.26 L608.93,386.24 L609.42,386.21 L609.90,386.18 L610.38,386.15 L610.86,386.12 L611.34,386.09 L611.82,386.06 L612.30,386.03 L612.78,386.00 L613.26,385.96 L613.74,385.93 L614.22,385.90 L614.70,385.86 L615.18,385.82 L615.66,385.78 L616.14,385.75 L616.62,385.71 L617.10,385.66 L617.58,385.62 L618.06,385.58 L618.54,385.54 L619.03,385.49 L619.51,385.44 L619.99,385.40 L620.47,385.35 L620.95,385.30 L621.43,385.25 L621.91,385.19 L622.39,385.14 L622.87,385.08 L623.35,385.03 L623.83,384.97 L624.31,384.91 L624.79,384.85 L625.27,384.79 L625.75,384.73 L626.23,384.66 L626.71,384.59 L627.19,384.53 L627.67,384.46 L628.15,384.39 L628.63,384.31 L629.12,384.24 L629.60,384.16 L630.08,384.09 L630.56,384.01 L631.04,383.92 L631.52,383.84 L632.00,383.76 L632.48,383.67 L632.96,383.58 L633.44,383.49 L633.92,383.40 L634.40,383.30 L634.88,383.20 L635.36,383.10 L635.84,383.00 L636.32,382.90 L636.80,382.79 L637.28,382.69 L637.76,382.58 L638.25,382.46 L638.73,382.35 L639.21,382.23 L639.69,382.11 L640.17,381.99 L640.65,381.86 L641.13,381.73 L641.61,381.60 L642.09,381.47 L642.57,381.33 L643.05,381.20 L643.53,381.05 L644.01,380.91 L644.49,380.76 L644.97,380.61 L645.45,380.46 L645.93,380.30 L646.41,380.14 L646.89,379.98 L647.37,379.81 L647.86,379.64 L648.34,379.47 L648.82,379.30 L649.30,379.12 L649.78,378.93 L650.26,378.75 L650.74,378.56 L651.22,378.36 L651.70,378.16 L652.18,377.96 L652.66,377.76 L653.14,377.55 L653.62,377.34 L654.10,377.12 L654.58,376.90 L655.06,376.67 L655.54,376.44 L656.02,376.21 L656.50,375.97 L656.98,375.73 L657.47,375.48 L657.95,375.23 L658.43,374.97 L658.91,374.71 L659.39,374.44 L659.87,374.17 L660.35,373.90 L660.83,373.62 L661.31,373.33 L661.79,373.04 L662.27,372.74 L662.75,372.44 L663.23,372.14 L663.71,371.82 L664.19,371.51 L664.67,371.18 L665.15,370.86 L665.63,370.52 L666.11,370.18 L666.59,369.84 L667.08,369.48 L667.56,369.13 L668.04,368.76 L668.52,368.39 L669.00,368.01 L669.48,367.63 L669.96,367.24 L670.44,366.85 L670.92,366.44 L671.40,366.03 L671.88,365.62 L672.36,365.19 L672.84,364.76 L673.32,364.33 L673.80,363.88 L674.28,363.43 L674.76,362.97 L675.24,362.50 L675.72,362.03 L676.20,361.55 L676.69,361.06 L677.17,360.56 L677.65,360.06 L678.13,359.54 L678.61,359.02 L679.09,358.49 L679.57,357.96 L680.05,357.41 L680.53,356.85 L681.01,356.29 L681.49,355.72 L681.97,355.14 L682.45,354.55 L682.93,353.95 L683.41,353.34 L683.89,352.72 L684.37,352.10 L684.85,351.46 L685.33,350.82 L685.81,350.16 L686.30,349.50 L686.78,348.82 L687.26,348.14 L687.74,347.44 L688.22,346.74 L688.70,346.03 L689.18,345.30 L689.66,344.56 L690.14,343.82 L690.62,343.06 L691.10,342.29 L691.58,341.52 L692.06,340.73 L692.54,339.93 L693.02,339.11 L693.50,338.29 L693.98,337.46 L694.46,336.61 L694.94,335.76 L695.42,334.89 L695.91,334.01 L696.39,333.11 L696.87,332.21 L697.35,331.29 L697.83,330.37 L698.31,329.42 L698.79,328.47 L699.27,327.51 L699.75,326.53 L700.23,325.54 L700.71,324.54 L701.19,323.52 L701.67,322.49 L702.15,321.45 L702.63,320.40 L703.11,319.33 L703.59,318.25 L704.07,317.16 L704.55,316.05 L705.03,314.93 L705.52,313.80 L706.00,312.65 L706.48,311.49 L706.96,310.31 L707.44,309.13 L707.92,307.93 L708.40,306.71 L708.88,305.48 L709.36,304.24 L709.84,302.98 L710.32,301.71 L710.80,300.43 L711.28,299.13 L711.76,297.82 L712.24,296.49 L712.72,295.15 L713.20,293.80 L713.68,292.43 L714.16,291.05 L714.64,289.66 L715.12,288.25 L715.61,286.83 L716.09,285.39 L716.57,283.94 L717.05,282.47 L717.53,280.99 L718.01,279.50 L718.49,278.00 L718.97,276.48 L719.45,274.95 L719.93,273.40 L720.41,271.84 L720.89,270.27 L721.37,268.68 L721.85,267.08 L722.33,265.47 L722.81,263.84 L723.29,262.21 L723.77,260.56 L724.25,258.89 L724.74,257.22 L725.22,255.53 L725.70,253.83 L726.18,252.12 L726.66,250.40 L727.14,248.66 L727.62,246.92 L728.10,245.16 L728.58,243.40 L729.06,241.62 L729.54,239.83 L730.02,238.03 L730.50,236.22 L730.98,234.41 L731.46,232.58 L731.94,230.74 L732.42,228.90 L732.90,227.05 L733.38,225.19 L733.86,223.32 L734.35,221.44 L734.83,219.56 L735.31,217.67 L735.79,215.77 L736.27,213.87 L736.75,211.96 L737.23,210.05 L737.71,208.14 L738.19,206.21 L738.67,204.29 L739.15,202.36 L739.63,200.43 L740.11,198.50 L740.59,196.56 L741.07,194.62 L741.55,192.68 L742.03,190.75 L742.51,188.81 L742.99,186.87 L743.47,184.93 L743.96,183.00 L744.44,181.06 L744.92,179.13 L745.40,177.21 L745.88,175.28 L746.36,173.37 L746.84,171.45 L747.32,169.54 L747.80,167.64 L748.28,165.75 L748.76,163.86 L749.24,161.98 L749.72,160.12 L750.20,158.26 L750.68,156.41 L751.16,154.57 L751.64,152.74 L752.12,150.93 L752.60,149.12 L753.08,147.34 L753.57,145.56 L754.05,143.80 L754.53,142.06 L755.01,140.33 L755.49,138.62 L755.97,136.93 L756.45,135.26 L756.93,133.60 L757.41,131.97 L757.89,130.36 L758.37,128.76 L758.85,127.19 L759.33,125.64 L759.81,124.12 L760.29,122.62 L760.77,121.14 L761.25,119.69 L761.73,118.26 L762.21,116.87 L762.69,115.49 L763.18,114.15 L763.66,112.84 L764.14,111.55 L764.62,110.29 L765.10,109.07 L765.58,107.87 L766.06,106.71 L766.54,105.58 L767.02,104.48 L767.50,103.42 L767.98,102.39 L768.46,101.39 L768.94,100.43 L769.42,99.50 L769.90,98.61 L770.38,97.76 L770.86,96.94 L771.34,96.16 L771.82,95.41 L772.30,94.71 L772.79,94.04 L773.27,93.41 L773.75,92.82 L774.23,92.27 L774.71,91.76 L775.19,91.29 L775.67,90.86 L776.15,90.47 L776.63,90.12 L777.11,89.81 L777.59,89.54 L778.07,89.32 L778.55,89.13 L779.03,88.99 L779.51,88.88 L779.99,88.82 L780.47,88.80 L780.95,88.82 L781.43,88.88 L781.91,88.97 L782.40,89.11 L782.88,89.28 L783.36,89.50 L783.84,89.75 L784.32,90.04 L784.80,90.37 L785.28,90.73 L785.76,91.14 L786.24,91.58 L786.72,92.06 L787.20,92.57 L787.68,93.12 L788.16,93.71 L788.64,94.34 L789.12,95.00 L789.60,95.70 L790.08,96.43 L790.56,97.20 L791.04,98.00 L791.52,98.84 L792.00,99.71 L792.49,100.61 L792.97,101.55 L793.45,102.52 L793.93,103.52 L794.41,104.55 L794.89,105.62 L795.37,106.71 L795.85,107.84 L796.33,108.99 L796.81,110.18 L797.29,111.39 L797.77,112.63 L798.25,113.90 L798.73,115.19 L799.21,116.51 L799.69,117.86 L800.17,119.23 L800.65,120.63 L801.13,122.05 L801.62,123.50 L802.10,124.96 L802.58,126.45 L803.06,127.96 L803.54,129.49 L804.02,131.04 L804.50,132.62 L804.98,134.21 L805.46,135.81 L805.94,137.44 L806.42,139.08 L806.90,140.74 L807.38,142.42 L807.86,144.11 L808.34,145.82 L808.82,147.54 L809.30,149.27 L809.78,151.02 L810.26,152.77 L810.74,154.54 L811.23,156.33 L811.71,158.12 L812.19,159.92 L812.67,161.73 L813.15,163.55 L813.63,165.37 L814.11,167.21 L814.59,169.05 L815.07,170.89 L815.55,172.74 L816.03,174.60 L816.51,176.46 L816.99,178.33 L817.47,180.20 L817.95,182.07 L818.43,183.95 L818.91,185.82 L819.39,187.70 L819.87,189.58 L820.35,191.46 L820.84,193.34 L821.32,195.22 L821.80,197.10 L822.28,198.97 L822.76,200.85 L823.24,202.72 L823.72,204.59 L824.20,206.46 L824.68,208.32 L825.16,210.18 L825.64,212.04 L826.12,213.89 L826.60,215.73 L827.08,217.57 L827.56,219.40 L828.04,221.23 L828.52,223.05 L829.00,224.87 L829.48,226.68 L829.96,228.48 L830.45,230.27 L830.93,232.05 L831.41,233.83 L831.89,235.60 L832.37,237.35 L832.85,239.10 L833.33,240.84 L833.81,242.58 L834.29,244.30 L834.77,246.01 L835.25,247.71 L835.73,249.40 L836.21,251.08 L836.69,252.75 L837.17,254.41 L837.65,256.06 L838.13,257.69 L838.61,259.32 L839.09,260.93 L839.57,262.53 L840.06,264.12 L840.54,265.70 L841.02,267.27 L841.50,268.82 L841.98,270.36 L842.46,271.89 L842.94,273.41 L843.42,274.92 L843.90,276.41 L844.38,277.89 L844.86,279.35 L845.34,280.81 L845.82,282.25 L846.30,283.68 L846.78,285.09 L847.26,286.49 L847.74,287.88 L848.22,289.26 L848.70,290.62 L849.18,291.97 L849.67,293.31 L850.15,294.63 L850.63,295.95 L851.11,297.24 L851.59,298.53 L852.07,299.80 L852.55,301.06 L853.03,302.30 L853.51,303.54 L853.99,304.76 L854.47,305.96 L854.95,307.16 L855.43,308.34 L855.91,309.51 L856.39,310.66 L856.87,311.80 L857.35,312.93 L857.83,314.05 L858.31,315.15 L858.79,316.24 L859.28,317.32 L859.76,318.39 L860.24,319.44 L860.72,320.49 L861.20,321.52 L861.68,322.53 L862.16,323.54 L862.64,324.53 L863.12,325.51 L863.60,326.48 L864.08,327.44 L864.56,328.38 L865.04,329.32 L865.52,330.24 L866.00,331.15 L866.48,332.05 L866.96,332.94 L867.44,333.81 L867.92,334.68 L868.40,335.53 L868.88,336.37 L869.37,337.21 L869.85,338.03 L870.33,338.84 L870.81,339.64 L871.29,340.43 L871.77,341.20 L872.25,341.97 L872.73,342.73 L873.21,343.48 L873.69,344.21 L874.17,344.94 L874.65,345.66 L875.13,346.36 L875.61,347.06 L876.09,347.75 L876.57,348.43 L877.05,349.10 L877.53,349.76 L878.01,350.40 L878.50,351.05 L878.98,351.68 L879.46,352.30 L879.94,352.91 L880.42,353.52 L880.90,354.11 L881.38,354.70 L881.86,355.28 L882.34,355.85 L882.82,356.41 L883.30,356.96 L883.78,357.51 L884.26,358.04 L884.74,358.57 L885.22,359.09 L885.70,359.61 L886.18,360.11 L886.66,360.61 L887.14,361.10 L887.62,361.58 L888.11,362.05 L888.59,362.52 L889.07,362.98 L889.55,363.44 L890.03,363.88 L890.51,364.32 L890.99,364.75 L891.47,365.18 L891.95,365.60 L892.43,366.01 L892.91,366.41 L893.39,366.81 L893.87,367.20 L894.35,367.59 L894.83,367.97 L895.31,368.34 L895.79,368.71 L896.27,369.07 L896.75,369.43 L897.23,369.78 L897.72,370.12 L898.20,370.46 L898.68,370.79 L899.16,371.12 L899.64,371.44 L900.12,371.75 L900.60,372.06 L901.08,372.37 L901.56,372.67 L902.04,372.96 L902.52,373.25 L903.00,373.54 L903.48,373.82 L903.96,374.09 L904.44,374.36 L904.92,374.63 L905.40,374.89 L905.88,375.15 L906.36,375.40 L906.84,375.64 L907.33,375.89 L907.81,376.13 L908.29,376.36 L908.77,376.59 L909.25,376.82 L909.73,377.04 L910.21,377.25 L910.69,377.47 L911.17,377.68 L911.65,377.88 L912.13,378.09 L912.61,378.28 L913.09,378.48 L913.57,378.67 L914.05,378.86 L914.53,379.04 L915.01,379.22 L915.49,379.40 L915.97,379.57 L916.45,379.74 L916.94,379.91 L917.42,380.07 L917.90,380.23 L918.38,380.39 L918.86,380.55 L919.34,380.70 L919.82,380.85 L920.30,380.99 L920.78,381.13 L921.26,381.27 L921.74,381.41 L922.22,381.54 L922.70,381.68 L923.18,381.80 L923.66,381.93 L924.14,382.05 L924.62,382.18 L925.10,382.29 L925.58,382.41 L926.06,382.52 L926.55,382.64 L927.03,382.75 L927.51,382.85 L927.99,382.96 L928.47,383.06 L928.95,383.16 L929.43,383.26 L929.91,383.35 L930.39,383.45 L930.87,383.54 L931.35,383.63 L931.83,383.72 L932.31,383.80 L932.79,383.89 L933.27,383.97 L933.75,384.05 L934.23,384.13 L934.71,384.21 L935.19,384.28 L935.67,384.36 L936.15,384.43 L936.64,384.50 L937.12,384.57 L937.60,384.63 L938.08,384.70 L938.56,384.76 L939.04,384.83 L939.52,384.89 L940.00,384.95 L940.48,385.01 L940.96,385.06 L941.44,385.12 L941.92,385.17 L942.40,385.23 L942.88,385.28 L943.36,385.33 L943.84,385.38 L944.32,385.43 L944.80,385.47 L945.28,385.52 L945.77,385.56 L946.25,385.61 L946.73,385.65 L947.21,385.69 L947.69,385.73 L948.17,385.77 L948.65,385.81 L949.13,385.85 L949.61,385.88 L950.09,385.92 L950.57,385.96 L951.05,385.99 L951.53,386.02 L952.01,386.05 L952.49,386.09 L952.97,386.12 L953.45,386.15 L953.93,386.17 L954.41,386.20 L954.89,386.23 L955.38,386.26 L955.86,386.28 L956.34,386.31 L956.82,386.33 L957.30,386.36 L957.78,386.38 L958.26,386.40 L958.74,386.42 L959.22,386.45 L959.70,386.47 L960.18,386.49 L960.66,386.51 L961.14,386.53 L961.62,386.54 L962.10,386.56 L962.58,386.58 L963.06,386.60 L963.54,386.61 L964.02,386.63 L964.50,386.65 L964.99,386.66 L965.47,386.67 L965.95,386.69 L966.43,386.70 L966.91,386.72 L967.39,386.73 L967.87,386.74 L968.35,386.75 L968.83,386.77 L969.31,386.78 L969.79,386.79 L970.27,386.80 L970.75,386.81 L971.23,386.82 L971.71,386.83 L972.19,386.84 L972.67,386.85 L973.15,386.86 L973.63,386.87 L974.11,386.88 L974.60,386.88 L975.08,386.89 L975.56,386.90 L976.04,386.91 L976.52,386.91 L977.00,386.92 L977.48,386.93 L977.96,386.93 L978.44,386.94 L978.92,386.95 L979.40,386.95" fill="none" stroke="#1c66da" stroke-width="3.0" stroke-linejoin="round"/>
<path d="M595.00,387.10 L595.48,387.10 L595.96,387.09 L596.44,387.09 L596.92,387.09 L597.40,387.09 L597.88,387.09 L598.36,387.09 L598.84,387.09 L599.32,387.09 L599.81,387.09 L600.29,387.09 L600.77,387.09 L601.25,387.09 L601.73,387.09 L602.21,387.08 L602.69,387.08 L603.17,387.08 L603.65,387.08 L604.13,387.08 L604.61,387.08 L605.09,387.08 L605.57,387.07 L606.05,387.07 L606.53,387.07 L607.01,387.07 L607.49,387.07 L607.97,387.06 L608.45,387.06 L608.93,387.06 L609.42,387.06 L609.90,387.05 L610.38,387.05 L610.86,387.05 L611.34,387.04 L611.82,387.04 L612.30,387.04 L612.78,387.03 L613.26,387.03 L613.74,387.02 L614.22,387.02 L614.70,387.01 L615.18,387.01 L615.66,387.00 L616.14,386.99 L616.62,386.99 L617.10,386.98 L617.58,386.97 L618.06,386.97 L618.54,386.96 L619.03,386.95 L619.51,386.94 L619.99,386.93 L620.47,386.92 L620.95,386.91 L621.43,386.90 L621.91,386.89 L622.39,386.88 L622.87,386.87 L623.35,386.85 L623.83,386.84 L624.31,386.83 L624.79,386.81 L625.27,386.80 L625.75,386.78 L626.23,386.76 L626.71,386.74 L627.19,386.73 L627.67,386.71 L628.15,386.69 L628.63,386.66 L629.12,386.64 L629.60,386.62 L630.08,386.59 L630.56,386.57 L631.04,386.54 L631.52,386.52 L632.00,386.49 L632.48,386.46 L632.96,386.43 L633.44,386.39 L633.92,386.36 L634.40,386.32 L634.88,386.29 L635.36,386.25 L635.84,386.21 L636.32,386.17 L636.80,386.13 L637.28,386.08 L637.76,386.04 L638.25,385.99 L638.73,385.94 L639.21,385.89 L639.69,385.83 L640.17,385.78 L640.65,385.72 L641.13,385.66 L641.61,385.60 L642.09,385.53 L642.57,385.47 L643.05,385.40 L643.53,385.33 L644.01,385.25 L644.49,385.18 L644.97,385.10 L645.45,385.02 L645.93,384.93 L646.41,384.85 L646.89,384.75 L647.37,384.66 L647.86,384.57 L648.34,384.47 L648.82,384.36 L649.30,384.26 L649.78,384.15 L650.26,384.04 L650.74,383.92 L651.22,383.80 L651.70,383.68 L652.18,383.55 L652.66,383.42 L653.14,383.28 L653.62,383.14 L654.10,383.00 L654.58,382.85 L655.06,382.70 L655.54,382.54 L656.02,382.38 L656.50,382.22 L656.98,382.05 L657.47,381.87 L657.95,381.69 L658.43,381.51 L658.91,381.32 L659.39,381.12 L659.87,380.92 L660.35,380.71 L660.83,380.50 L661.31,380.29 L661.79,380.06 L662.27,379.83 L662.75,379.60 L663.23,379.36 L663.71,379.11 L664.19,378.86 L664.67,378.60 L665.15,378.33 L665.63,378.06 L666.11,377.78 L666.59,377.50 L667.08,377.20 L667.56,376.90 L668.04,376.60 L668.52,376.28 L669.00,375.96 L669.48,375.63 L669.96,375.30 L670.44,374.95 L670.92,374.60 L671.40,374.24 L671.88,373.87 L672.36,373.50 L672.84,373.11 L673.32,372.72 L673.80,372.32 L674.28,371.91 L674.76,371.49 L675.24,371.06 L675.72,370.63 L676.20,370.18 L676.69,369.73 L677.17,369.26 L677.65,368.79 L678.13,368.31 L678.61,367.81 L679.09,367.31 L679.57,366.80 L680.05,366.28 L680.53,365.74 L681.01,365.20 L681.49,364.65 L681.97,364.08 L682.45,363.51 L682.93,362.92 L683.41,362.33 L683.89,361.72 L684.37,361.10 L684.85,360.47 L685.33,359.83 L685.81,359.18 L686.30,358.52 L686.78,357.85 L687.26,357.16 L687.74,356.46 L688.22,355.75 L688.70,355.03 L689.18,354.29 L689.66,353.55 L690.14,352.79 L690.62,352.02 L691.10,351.23 L691.58,350.44 L692.06,349.63 L692.54,348.80 L693.02,347.97 L693.50,347.12 L693.98,346.26 L694.46,345.38 L694.94,344.50 L695.42,343.60 L695.91,342.68 L696.39,341.75 L696.87,340.81 L697.35,339.85 L697.83,338.88 L698.31,337.90 L698.79,336.90 L699.27,335.89 L699.75,334.87 L700.23,333.83 L700.71,332.77 L701.19,331.70 L701.67,330.62 L702.15,329.52 L702.63,328.41 L703.11,327.29 L703.59,326.15 L704.07,324.99 L704.55,323.82 L705.03,322.64 L705.52,321.44 L706.00,320.22 L706.48,318.99 L706.96,317.75 L707.44,316.49 L707.92,315.22 L708.40,313.93 L708.88,312.63 L709.36,311.31 L709.84,309.98 L710.32,308.63 L710.80,307.27 L711.28,305.89 L711.76,304.50 L712.24,303.09 L712.72,301.67 L713.20,300.23 L713.68,298.78 L714.16,297.31 L714.64,295.83 L715.12,294.34 L715.61,292.83 L716.09,291.31 L716.57,289.77 L717.05,288.21 L717.53,286.65 L718.01,285.07 L718.49,283.47 L718.97,281.86 L719.45,280.24 L719.93,278.60 L720.41,276.95 L720.89,275.29 L721.37,273.61 L721.85,271.92 L722.33,270.22 L722.81,268.50 L723.29,266.78 L723.77,265.04 L724.25,263.28 L724.74,261.52 L725.22,259.74 L725.70,257.95 L726.18,256.15 L726.66,254.34 L727.14,252.52 L727.62,250.68 L728.10,248.84 L728.58,246.98 L729.06,245.12 L729.54,243.25 L730.02,241.36 L730.50,239.47 L730.98,237.57 L731.46,235.66 L731.94,233.74 L732.42,231.81 L732.90,229.88 L733.38,227.94 L733.86,225.99 L734.35,224.04 L734.83,222.08 L735.31,220.11 L735.79,218.14 L736.27,216.16 L736.75,214.18 L737.23,212.20 L737.71,210.21 L738.19,208.22 L738.67,206.23 L739.15,204.23 L739.63,202.23 L740.11,200.23 L740.59,198.23 L741.07,196.23 L741.55,194.23 L742.03,192.24 L742.51,190.24 L742.99,188.24 L743.47,186.25 L743.96,184.26 L744.44,182.27 L744.92,180.29 L745.40,178.31 L745.88,176.34 L746.36,174.37 L746.84,172.41 L747.32,170.46 L747.80,168.51 L748.28,166.58 L748.76,164.65 L749.24,162.73 L749.72,160.82 L750.20,158.93 L750.68,157.04 L751.16,155.17 L751.64,153.31 L752.12,151.46 L752.60,149.62 L753.08,147.81 L753.57,146.00 L754.05,144.22 L754.53,142.45 L755.01,140.70 L755.49,138.96 L755.97,137.25 L756.45,135.55 L756.93,133.88 L757.41,132.22 L757.89,130.59 L758.37,128.98 L758.85,127.39 L759.33,125.83 L759.81,124.29 L760.29,122.77 L760.77,121.28 L761.25,119.82 L761.73,118.38 L762.21,116.97 L762.69,115.59 L763.18,114.24 L763.66,112.91 L764.14,111.62 L764.62,110.36 L765.10,109.12 L765.58,107.92 L766.06,106.75 L766.54,105.62 L767.02,104.51 L767.50,103.45 L767.98,102.41 L768.46,101.41 L768.94,100.45 L769.42,99.52 L769.90,98.62 L770.38,97.77 L770.86,96.95 L771.34,96.17 L771.82,95.42 L772.30,94.71 L772.79,94.05 L773.27,93.42 L773.75,92.83 L774.23,92.28 L774.71,91.76 L775.19,91.29 L775.67,90.86 L776.15,90.47 L776.63,90.12 L777.11,89.81 L777.59,89.54 L778.07,89.32 L778.55,89.13 L779.03,88.99 L779.51,88.88 L779.99,88.82 L780.47,88.80 L780.95,88.82 L781.43,88.89 L781.91,89.00 L782.40,89.15 L782.88,89.35 L783.36,89.60 L783.84,89.88 L784.32,90.21 L784.80,90.59 L785.28,91.01 L785.76,91.47 L786.24,91.97 L786.72,92.52 L787.20,93.11 L787.68,93.74 L788.16,94.41 L788.64,95.12 L789.12,95.88 L789.60,96.67 L790.08,97.51 L790.56,98.38 L791.04,99.30 L791.52,100.25 L792.00,101.24 L792.49,102.27 L792.97,103.33 L793.45,104.43 L793.93,105.57 L794.41,106.75 L794.89,107.95 L795.37,109.20 L795.85,110.47 L796.33,111.78 L796.81,113.12 L797.29,114.50 L797.77,115.90 L798.25,117.34 L798.73,118.80 L799.21,120.29 L799.69,121.82 L800.17,123.37 L800.65,124.94 L801.13,126.54 L801.62,128.17 L802.10,129.82 L802.58,131.50 L803.06,133.20 L803.54,134.92 L804.02,136.66 L804.50,138.43 L804.98,140.21 L805.46,142.02 L805.94,143.84 L806.42,145.68 L806.90,147.54 L807.38,149.41 L807.86,151.30 L808.34,153.20 L808.82,155.12 L809.30,157.05 L809.78,159.00 L810.26,160.96 L810.74,162.93 L811.23,164.90 L811.71,166.89 L812.19,168.89 L812.67,170.90 L813.15,172.91 L813.63,174.93 L814.11,176.96 L814.59,178.99 L815.07,181.03 L815.55,183.08 L816.03,185.12 L816.51,187.17 L816.99,189.23 L817.47,191.28 L817.95,193.34 L818.43,195.40 L818.91,197.45 L819.39,199.51 L819.87,201.57 L820.35,203.62 L820.84,205.67 L821.32,207.72 L821.80,209.77 L822.28,211.81 L822.76,213.85 L823.24,215.89 L823.72,217.92 L824.20,219.94 L824.68,221.96 L825.16,223.97 L825.64,225.98 L826.12,227.98 L826.60,229.97 L827.08,231.95 L827.56,233.93 L828.04,235.89 L828.52,237.85 L829.00,239.80 L829.48,241.73 L829.96,243.66 L830.45,245.58 L830.93,247.49 L831.41,249.38 L831.89,251.27 L832.37,253.14 L832.85,255.00 L833.33,256.85 L833.81,258.69 L834.29,260.51 L834.77,262.32 L835.25,264.12 L835.73,265.91 L836.21,267.68 L836.69,269.44 L837.17,271.18 L837.65,272.91 L838.13,274.63 L838.61,276.33 L839.09,278.02 L839.57,279.69 L840.06,281.35 L840.54,283.00 L841.02,284.63 L841.50,286.24 L841.98,287.84 L842.46,289.43 L842.94,291.00 L843.42,292.55 L843.90,294.09 L844.38,295.61 L844.86,297.12 L845.34,298.61 L845.82,300.09 L846.30,301.55 L846.78,303.00 L847.26,304.43 L847.74,305.84 L848.22,307.24 L848.70,308.62 L849.18,309.99 L849.67,311.34 L850.15,312.68 L850.63,314.00 L851.11,315.30 L851.59,316.59 L852.07,317.87 L852.55,319.13 L853.03,320.37 L853.51,321.60 L853.99,322.81 L854.47,324.00 L854.95,325.18 L855.43,326.35 L855.91,327.50 L856.39,328.64 L856.87,329.76 L857.35,330.86 L857.83,331.95 L858.31,333.03 L858.79,334.09 L859.28,335.13 L859.76,336.16 L860.24,337.18 L860.72,338.18 L861.20,339.17 L861.68,340.14 L862.16,341.10 L862.64,342.05 L863.12,342.98 L863.60,343.89 L864.08,344.80 L864.56,345.69 L865.04,346.56 L865.52,347.42 L866.00,348.27 L866.48,349.11 L866.96,349.93 L867.44,350.74 L867.92,351.53 L868.40,352.31 L868.88,353.08 L869.37,353.84 L869.85,354.59 L870.33,355.32 L870.81,356.04 L871.29,356.74 L871.77,357.44 L872.25,358.12 L872.73,358.79 L873.21,359.45 L873.69,360.10 L874.17,360.74 L874.65,361.36 L875.13,361.98 L875.61,362.58 L876.09,363.17 L876.57,363.75 L877.05,364.32 L877.53,364.88 L878.01,365.43 L878.50,365.97 L878.98,366.50 L879.46,367.01 L879.94,367.52 L880.42,368.02 L880.90,368.51 L881.38,368.99 L881.86,369.45 L882.34,369.91 L882.82,370.36 L883.30,370.80 L883.78,371.24 L884.26,371.66 L884.74,372.07 L885.22,372.48 L885.70,372.87 L886.18,373.26 L886.66,373.64 L887.14,374.01 L887.62,374.38 L888.11,374.73 L888.59,375.08 L889.07,375.42 L889.55,375.75 L890.03,376.08 L890.51,376.39 L890.99,376.70 L891.47,377.01 L891.95,377.30 L892.43,377.59 L892.91,377.87 L893.39,378.15 L893.87,378.42 L894.35,378.68 L894.83,378.93 L895.31,379.18 L895.79,379.43 L896.27,379.67 L896.75,379.90 L897.23,380.12 L897.72,380.34 L898.20,380.56 L898.68,380.76 L899.16,380.97 L899.64,381.17 L900.12,381.36 L900.60,381.55 L901.08,381.73 L901.56,381.91 L902.04,382.08 L902.52,382.25 L903.00,382.41 L903.48,382.57 L903.96,382.72 L904.44,382.87 L904.92,383.02 L905.40,383.16 L905.88,383.30 L906.36,383.43 L906.84,383.56 L907.33,383.69 L907.81,383.81 L908.29,383.93 L908.77,384.04 L909.25,384.16 L909.73,384.26 L910.21,384.37 L910.69,384.47 L911.17,384.57 L911.65,384.66 L912.13,384.76 L912.61,384.84 L913.09,384.93 L913.57,385.01 L914.05,385.10 L914.53,385.17 L915.01,385.25 L915.49,385.32 L915.97,385.39 L916.45,385.46 L916.94,385.53 L917.42,385.59 L917.90,385.65 L918.38,385.71 L918.86,385.77 L919.34,385.82 L919.82,385.88 L920.30,385.93 L920.78,385.98 L921.26,386.03 L921.74,386.07 L922.22,386.12 L922.70,386.16 L923.18,386.20 L923.66,386.24 L924.14,386.28 L924.62,386.31 L925.10,386.35 L925.58,386.38 L926.06,386.42 L926.55,386.45 L927.03,386.48 L927.51,386.51 L927.99,386.53 L928.47,386.56 L928.95,386.59 L929.43,386.61 L929.91,386.63 L930.39,386.66 L930.87,386.68 L931.35,386.70 L931.83,386.72 L932.31,386.74 L932.79,386.75 L933.27,386.77 L933.75,386.79 L934.23,386.80 L934.71,386.82 L935.19,386.83 L935.67,386.85 L936.15,386.86 L936.64,386.87 L937.12,386.88 L937.60,386.90 L938.08,386.91 L938.56,386.92 L939.04,386.93 L939.52,386.94 L940.00,386.95 L940.48,386.95 L940.96,386.96 L941.44,386.97 L941.92,386.98 L942.40,386.98 L942.88,386.99 L943.36,387.00 L943.84,387.00 L944.32,387.01 L944.80,387.01 L945.28,387.02 L945.77,387.02 L946.25,387.03 L946.73,387.03 L947.21,387.04 L947.69,387.04 L948.17,387.04 L948.65,387.05 L949.13,387.05 L949.61,387.05 L950.09,387.06 L950.57,387.06 L951.05,387.06 L951.53,387.06 L952.01,387.07 L952.49,387.07 L952.97,387.07 L953.45,387.07 L953.93,387.07 L954.41,387.08 L954.89,387.08 L955.38,387.08 L955.86,387.08 L956.34,387.08 L956.82,387.08 L957.30,387.08 L957.78,387.09 L958.26,387.09 L958.74,387.09 L959.22,387.09 L959.70,387.09 L960.18,387.09 L960.66,387.09 L961.14,387.09 L961.62,387.09 L962.10,387.09 L962.58,387.09 L963.06,387.09 L963.54,387.09 L964.02,387.10 L964.50,387.10 L964.99,387.10 L965.47,387.10 L965.95,387.10 L966.43,387.10 L966.91,387.10 L967.39,387.10 L967.87,387.10 L968.35,387.10 L968.83,387.10 L969.31,387.10 L969.79,387.10 L970.27,387.10 L970.75,387.10 L971.23,387.10 L971.71,387.10 L972.19,387.10 L972.67,387.10 L973.15,387.10 L973.63,387.10 L974.11,387.10 L974.60,387.10 L975.08,387.10 L975.56,387.10 L976.04,387.10 L976.52,387.10 L977.00,387.10 L977.48,387.10 L977.96,387.10 L978.44,387.10 L978.92,387.10 L979.40,387.10" fill="none" stroke="#2fa86e" stroke-width="3.0" stroke-linejoin="round"/>
<line x1="595.00" y1="61.00" x2="595.00" y2="392.30" stroke="#000" stroke-width="2.30" stroke-linecap="butt"/>
<line x1="593.90" y1="391.20" x2="979.40" y2="391.20" stroke="#000" stroke-width="2.60" stroke-linecap="butt"/>
<text x="588.80" y="397.10" font-size="27.50" text-anchor="end">0.0</text>
<line x1="595.00" y1="328.64" x2="601.50" y2="328.64" stroke="#000" stroke-width="2.20" stroke-linecap="butt"/>
<text x="588.80" y="337.14" font-size="27.50" text-anchor="end">0.2</text>
<line x1="595.00" y1="268.68" x2="601.50" y2="268.68" stroke="#000" stroke-width="2.20" stroke-linecap="butt"/>
<text x="588.80" y="277.18" font-size="27.50" text-anchor="end">0.4</text>
<line x1="595.00" y1="208.72" x2="601.50" y2="208.72" stroke="#000" stroke-width="2.20" stroke-linecap="butt"/>
<text x="588.80" y="217.22" font-size="27.50" text-anchor="end">0.6</text>
<line x1="595.00" y1="148.76" x2="601.50" y2="148.76" stroke="#000" stroke-width="2.20" stroke-linecap="butt"/>
<text x="588.80" y="157.26" font-size="27.50" text-anchor="end">0.8</text>
<line x1="595.00" y1="88.80" x2="601.50" y2="88.80" stroke="#000" stroke-width="2.20" stroke-linecap="butt"/>
<text x="588.80" y="97.30" font-size="27.50" text-anchor="end">1.0</text>
<line x1="595.00" y1="358.62" x2="598.60" y2="358.62" stroke="#000" stroke-width="2.00" stroke-linecap="butt"/>
<line x1="595.00" y1="298.66" x2="598.60" y2="298.66" stroke="#000" stroke-width="2.00" stroke-linecap="butt"/>
<line x1="595.00" y1="238.70" x2="598.60" y2="238.70" stroke="#000" stroke-width="2.00" stroke-linecap="butt"/>
<line x1="595.00" y1="178.74" x2="598.60" y2="178.74" stroke="#000" stroke-width="2.00" stroke-linecap="butt"/>
<line x1="595.00" y1="118.78" x2="598.60" y2="118.78" stroke="#000" stroke-width="2.00" stroke-linecap="butt"/>
<line x1="633.44" y1="391.20" x2="633.44" y2="397.20" stroke="#000" stroke-width="2.40" stroke-linecap="butt"/>
<text x="632.64" y="423.30" font-size="27.50" text-anchor="middle">-4</text>
<line x1="710.32" y1="391.20" x2="710.32" y2="397.20" stroke="#000" stroke-width="2.40" stroke-linecap="butt"/>
<text x="709.52" y="423.30" font-size="27.50" text-anchor="middle">-2</text>
<line x1="787.20" y1="391.20" x2="787.20" y2="397.20" stroke="#000" stroke-width="2.40" stroke-linecap="butt"/>
<text x="787.20" y="423.30" font-size="27.50" text-anchor="middle">0</text>
<line x1="864.08" y1="391.20" x2="864.08" y2="397.20" stroke="#000" stroke-width="2.40" stroke-linecap="butt"/>
<text x="864.08" y="423.30" font-size="27.50" text-anchor="middle">2</text>
<line x1="940.96" y1="391.20" x2="940.96" y2="397.20" stroke="#000" stroke-width="2.40" stroke-linecap="butt"/>
<text x="940.96" y="423.30" font-size="27.50" text-anchor="middle">4</text>
<line x1="671.88" y1="391.20" x2="671.88" y2="394.40" stroke="#000" stroke-width="2.20" stroke-linecap="butt"/>
<line x1="748.76" y1="391.20" x2="748.76" y2="394.40" stroke="#000" stroke-width="2.20" stroke-linecap="butt"/>
<line x1="825.64" y1="391.20" x2="825.64" y2="394.40" stroke="#000" stroke-width="2.20" stroke-linecap="butt"/>
<line x1="902.52" y1="391.20" x2="902.52" y2="394.40" stroke="#000" stroke-width="2.20" stroke-linecap="butt"/>
<text x="661.10" y="455.70" font-size="40.00" text-anchor="start" textLength="251.5" lengthAdjust="spacingAndGlyphs">Time delay (ps)</text>
<text transform="translate(539.90,225.50) rotate(-90)" font-size="41.00" text-anchor="middle" textLength="255.5" lengthAdjust="spacingAndGlyphs">Intensity (a.u.)</text>
<rect x="145.60" y="61.00" width="833.80" height="671.60" fill="none" stroke="#000" stroke-width="4.40"/>
<text x="131.00" y="738.90" font-size="38.50" text-anchor="end">0.0</text>
<line x1="145.60" y1="616.50" x2="158.30" y2="616.50" stroke="#000" stroke-width="4.20" stroke-linecap="butt"/>
<text x="131.00" y="627.70" font-size="38.50" text-anchor="end">0.2</text>
<line x1="145.60" y1="505.30" x2="158.30" y2="505.30" stroke="#000" stroke-width="4.20" stroke-linecap="butt"/>
<text x="131.00" y="516.50" font-size="38.50" text-anchor="end">0.4</text>
<line x1="145.60" y1="394.10" x2="158.30" y2="394.10" stroke="#000" stroke-width="4.20" stroke-linecap="butt"/>
<text x="131.00" y="405.30" font-size="38.50" text-anchor="end">0.6</text>
<line x1="145.60" y1="282.90" x2="158.30" y2="282.90" stroke="#000" stroke-width="4.20" stroke-linecap="butt"/>
<text x="131.00" y="294.10" font-size="38.50" text-anchor="end">0.8</text>
<line x1="145.60" y1="171.70" x2="158.30" y2="171.70" stroke="#000" stroke-width="4.20" stroke-linecap="butt"/>
<text x="131.00" y="182.90" font-size="38.50" text-anchor="end">1.0</text>
<text x="131.00" y="71.70" font-size="38.50" text-anchor="end">1.2</text>
<line x1="145.60" y1="672.10" x2="151.90" y2="672.10" stroke="#000" stroke-width="4.00" stroke-linecap="butt"/>
<line x1="145.60" y1="560.90" x2="151.90" y2="560.90" stroke="#000" stroke-width="4.00" stroke-linecap="butt"/>
<line x1="145.60" y1="449.70" x2="151.90" y2="449.70" stroke="#000" stroke-width="4.00" stroke-linecap="butt"/>
<line x1="145.60" y1="338.50" x2="151.90" y2="338.50" stroke="#000" stroke-width="4.00" stroke-linecap="butt"/>
<line x1="145.60" y1="227.30" x2="151.90" y2="227.30" stroke="#000" stroke-width="4.00" stroke-linecap="butt"/>
<line x1="145.60" y1="116.10" x2="151.90" y2="116.10" stroke="#000" stroke-width="4.00" stroke-linecap="butt"/>
<line x1="145.60" y1="732.60" x2="145.60" y2="745.00" stroke="#000" stroke-width="4.60" stroke-linecap="butt"/>
<text x="145.30" y="784.20" font-size="38.50" text-anchor="middle">1020</text>
<line x1="312.36" y1="732.60" x2="312.36" y2="745.00" stroke="#000" stroke-width="4.60" stroke-linecap="butt"/>
<text x="312.06" y="784.20" font-size="38.50" text-anchor="middle">1025</text>
<line x1="479.12" y1="732.60" x2="479.12" y2="745.00" stroke="#000" stroke-width="4.60" stroke-linecap="butt"/>
<text x="478.82" y="784.20" font-size="38.50" text-anchor="middle">1030</text>
<line x1="645.88" y1="732.60" x2="645.88" y2="745.00" stroke="#000" stroke-width="4.60" stroke-linecap="butt"/>
<text x="645.58" y="784.20" font-size="38.50" text-anchor="middle">1035</text>
<line x1="812.64" y1="732.60" x2="812.64" y2="745.00" stroke="#000" stroke-width="4.60" stroke-linecap="butt"/>
<text x="812.34" y="784.20" font-size="38.50" text-anchor="middle">1040</text>
<line x1="979.40" y1="732.60" x2="979.40" y2="745.00" stroke="#000" stroke-width="4.60" stroke-linecap="butt"/>
<text x="979.10" y="784.20" font-size="38.50" text-anchor="middle">1045</text>
<line x1="228.98" y1="732.60" x2="228.98" y2="738.20" stroke="#000" stroke-width="4.00" stroke-linecap="butt"/>
<line x1="395.74" y1="732.60" x2="395.74" y2="738.20" stroke="#000" stroke-width="4.00" stroke-linecap="butt"/>
<line x1="562.50" y1="732.60" x2="562.50" y2="738.20" stroke="#000" stroke-width="4.00" stroke-linecap="butt"/>
<line x1="729.26" y1="732.60" x2="729.26" y2="738.20" stroke="#000" stroke-width="4.00" stroke-linecap="butt"/>
<line x1="896.02" y1="732.60" x2="896.02" y2="738.20" stroke="#000" stroke-width="4.00" stroke-linecap="butt"/>
<text x="562.00" y="854.20" font-size="48.50" text-anchor="middle" textLength="356" lengthAdjust="spacingAndGlyphs">Wavelength (nm)</text>
<text transform="translate(61.00,396.90) rotate(-90)" font-size="48.50" text-anchor="middle">Intensity (a.u.)</text>
<text x="6.10" y="40.20" font-size="48.00" text-anchor="start">(a)</text>
<line x1="174.80" y1="104.60" x2="250.40" y2="104.60" stroke="#505050" stroke-width="4.60" stroke-linecap="round"/>
<text x="260.30" y="116.30" font-size="33.50" text-anchor="start" textLength="133.6" lengthAdjust="spacingAndGlyphs">15.8 mW</text>
<line x1="174.80" y1="148.40" x2="250.40" y2="148.40" stroke="#ef3f3f" stroke-width="4.60" stroke-linecap="round"/>
<text x="260.30" y="160.10" font-size="33.50" text-anchor="start" textLength="133.6" lengthAdjust="spacingAndGlyphs">24.7 mW</text>
<line x1="174.80" y1="192.00" x2="250.40" y2="192.00" stroke="#1c66da" stroke-width="4.60" stroke-linecap="round"/>
<text x="260.30" y="203.70" font-size="33.50" text-anchor="start" textLength="133.6" lengthAdjust="spacingAndGlyphs">36.8 mW</text>
<line x1="174.80" y1="235.70" x2="250.40" y2="235.70" stroke="#2fa86e" stroke-width="4.60" stroke-linecap="round"/>
<text x="260.30" y="247.40" font-size="33.50" text-anchor="start" textLength="133.6" lengthAdjust="spacingAndGlyphs">46.5 mW</text>
<path d="M147.00,1663.10 C164.17,1662.97 219.50,1662.97 250.00,1662.30 C280.50,1661.63 311.37,1660.92 330.00,1659.10 C348.63,1657.28 354.78,1653.48 361.80,1651.40 C368.82,1649.32 368.90,1648.45 372.10,1646.60 C375.30,1644.75 378.02,1642.68 381.00,1640.30 C383.98,1637.92 386.83,1635.05 390.00,1632.30 C393.17,1629.55 396.95,1626.32 400.00,1623.80 C403.05,1621.28 405.80,1620.12 408.30,1617.20 C410.80,1614.28 412.97,1609.35 415.00,1606.30 C417.03,1603.25 418.57,1601.45 420.50,1598.90 C422.43,1596.35 424.78,1593.83 426.60,1591.00 C428.42,1588.17 429.98,1584.93 431.40,1581.90 C432.82,1578.87 433.88,1575.83 435.10,1572.80 C436.32,1569.77 437.28,1566.73 438.70,1563.70 C440.12,1560.67 441.88,1557.25 443.60,1554.60 C445.32,1551.95 447.27,1549.35 449.00,1547.80 C450.73,1546.25 452.33,1545.90 454.00,1545.30 C455.67,1544.70 457.50,1544.12 459.00,1544.20 C460.50,1544.28 461.63,1544.87 463.00,1545.80 C464.37,1546.73 465.70,1547.88 467.20,1549.80 C468.70,1551.72 470.37,1554.75 472.00,1557.30 C473.63,1559.85 475.33,1562.52 477.00,1565.10 C478.67,1567.68 480.33,1570.15 482.00,1572.80 C483.67,1575.45 485.00,1577.37 487.00,1581.00 C489.00,1584.63 492.05,1591.38 494.00,1594.60 C495.95,1597.82 496.87,1598.23 498.70,1600.30 C500.53,1602.37 502.92,1604.72 505.00,1607.00 C507.08,1609.28 509.12,1612.52 511.20,1614.00 C513.28,1615.48 515.15,1615.77 517.50,1615.90 C519.85,1616.03 522.97,1614.60 525.30,1614.80 C527.63,1615.00 529.42,1615.80 531.50,1617.10 C533.58,1618.40 535.72,1620.78 537.80,1622.60 C539.88,1624.42 541.92,1626.32 544.00,1628.00 C546.08,1629.68 547.95,1631.00 550.30,1632.70 C552.65,1634.40 555.87,1636.67 558.10,1638.20 C560.33,1639.73 561.20,1640.50 563.70,1641.90 C566.20,1643.30 569.47,1645.30 573.10,1646.60 C576.73,1647.90 581.35,1648.40 585.50,1649.70 C589.65,1651.00 593.32,1652.83 598.00,1654.40 C602.68,1655.97 607.35,1657.93 613.60,1659.10 C619.85,1660.27 629.25,1660.75 635.50,1661.40 C641.75,1662.05 640.35,1662.67 651.10,1663.00 C661.85,1663.33 645.35,1663.33 700.00,1663.40 C754.65,1663.47 932.50,1663.40 979.00,1663.40" fill="none" stroke="#505050" stroke-width="4.5" stroke-linejoin="round" stroke-linecap="round"/>
<path d="M147.00,1663.10 C164.17,1662.97 219.50,1662.93 250.00,1662.30 C280.50,1661.67 312.50,1660.47 330.00,1659.30 C347.50,1658.13 348.55,1656.38 355.00,1655.30 C361.45,1654.22 365.05,1654.25 368.70,1652.80 C372.35,1651.35 374.28,1649.12 376.90,1646.60 C379.52,1644.08 382.02,1640.88 384.40,1637.70 C386.78,1634.52 389.15,1630.92 391.20,1627.50 C393.25,1624.08 395.00,1620.95 396.70,1617.20 C398.40,1613.45 399.70,1609.32 401.40,1605.00 C403.10,1600.68 405.00,1595.75 406.90,1591.30 C408.80,1586.85 411.12,1582.40 412.80,1578.30 C414.48,1574.20 415.67,1570.65 417.00,1566.70 C418.33,1562.75 419.43,1558.65 420.80,1554.60 C422.17,1550.55 423.83,1546.97 425.20,1542.40 C426.57,1537.83 427.78,1532.77 429.00,1527.20 C430.22,1521.63 431.33,1515.07 432.50,1509.00 C433.67,1502.93 434.87,1496.33 436.00,1490.80 C437.13,1485.27 438.40,1480.30 439.30,1475.80 C440.20,1471.30 440.70,1467.75 441.40,1463.80 C442.10,1459.85 442.77,1456.00 443.50,1452.10 C444.23,1448.20 445.07,1443.62 445.80,1440.40 C446.53,1437.18 447.02,1435.03 447.90,1432.80 C448.78,1430.57 450.08,1429.05 451.10,1427.00 C452.12,1424.95 452.98,1422.38 454.00,1420.50 C455.02,1418.62 456.13,1415.98 457.20,1415.70 C458.27,1415.42 459.37,1417.22 460.40,1418.80 C461.43,1420.38 462.42,1422.87 463.40,1425.20 C464.38,1427.53 465.43,1430.27 466.30,1432.80 C467.17,1435.33 467.82,1437.57 468.60,1440.40 C469.38,1443.23 470.22,1446.67 471.00,1449.80 C471.78,1452.93 472.50,1455.53 473.30,1459.20 C474.10,1462.87 474.80,1466.53 475.80,1471.80 C476.80,1477.07 478.33,1485.97 479.30,1490.80 C480.27,1495.63 480.45,1493.93 481.60,1500.80 C482.75,1507.67 484.52,1521.58 486.20,1532.00 C487.88,1542.42 489.73,1554.83 491.70,1563.30 C493.67,1571.77 495.92,1577.22 498.00,1582.80 C500.08,1588.38 502.00,1593.42 504.20,1596.80 C506.40,1600.18 508.98,1602.83 511.20,1603.10 C513.42,1603.37 515.42,1600.35 517.50,1598.40 C519.58,1596.45 521.75,1592.83 523.70,1591.40 C525.65,1589.97 527.50,1589.28 529.20,1589.80 C530.90,1590.32 532.47,1591.77 533.90,1594.50 C535.33,1597.23 536.37,1602.57 537.80,1606.20 C539.23,1609.83 540.82,1613.32 542.50,1616.30 C544.18,1619.28 545.95,1621.75 547.90,1624.10 C549.85,1626.45 552.08,1628.73 554.20,1630.40 C556.32,1632.07 557.45,1632.43 560.60,1634.10 C563.75,1635.77 568.95,1638.05 573.10,1640.40 C577.25,1642.75 580.82,1645.60 585.50,1648.20 C590.18,1650.80 595.47,1654.05 601.20,1656.00 C606.93,1657.95 611.58,1658.73 619.90,1659.90 C628.22,1661.07 637.75,1662.42 651.10,1663.00 C664.45,1663.58 645.35,1663.33 700.00,1663.40 C754.65,1663.47 932.50,1663.40 979.00,1663.40" fill="none" stroke="#ef3f3f" stroke-width="4.5" stroke-linejoin="round" stroke-linecap="round"/>
<path d="M147.00,1663.10 C164.17,1663.00 219.50,1663.00 250.00,1662.50 C280.50,1662.00 313.33,1660.97 330.00,1660.10 C346.67,1659.23 344.17,1657.77 350.00,1657.30 C355.83,1656.83 360.75,1657.47 365.00,1657.30 C369.25,1657.13 372.62,1657.05 375.50,1656.30 C378.38,1655.55 380.02,1654.75 382.30,1652.80 C384.58,1650.85 387.15,1647.80 389.20,1644.60 C391.25,1641.40 393.02,1637.37 394.60,1633.60 C396.18,1629.83 397.33,1626.20 398.70,1622.00 C400.07,1617.80 401.55,1612.95 402.80,1608.40 C404.05,1603.85 405.07,1599.67 406.20,1594.70 C407.33,1589.73 408.53,1582.77 409.60,1578.60 C410.67,1574.43 411.60,1573.20 412.60,1569.70 C413.60,1566.20 414.38,1562.65 415.60,1557.60 C416.82,1552.55 418.58,1546.48 419.90,1539.40 C421.22,1532.32 422.48,1523.20 423.50,1515.10 C424.52,1507.00 424.93,1500.87 426.00,1490.80 C427.07,1480.73 428.47,1469.82 429.90,1454.70 C431.33,1439.58 432.67,1418.32 434.60,1400.10 C436.53,1381.88 439.45,1363.62 441.50,1345.40 C443.55,1327.18 445.92,1301.60 446.90,1290.80 C447.88,1280.00 446.80,1285.43 447.40,1280.60 C448.00,1275.77 448.98,1267.05 450.50,1261.80 C452.02,1256.55 454.50,1249.10 456.50,1249.10 C458.50,1249.10 460.93,1256.55 462.50,1261.80 C464.07,1267.05 465.08,1275.77 465.90,1280.60 C466.72,1285.43 466.00,1280.00 467.40,1290.80 C468.80,1301.60 472.47,1327.18 474.30,1345.40 C476.13,1363.62 477.03,1381.88 478.40,1400.10 C479.77,1418.32 481.25,1437.92 482.50,1454.70 C483.75,1471.48 484.65,1488.12 485.90,1500.80 C487.15,1513.48 488.63,1521.70 490.00,1530.80 C491.37,1539.90 492.65,1546.08 494.10,1555.40 C495.55,1564.72 497.28,1578.50 498.70,1586.70 C500.12,1594.90 501.17,1602.13 502.60,1604.60 C504.03,1607.07 505.60,1603.83 507.30,1601.50 C509.00,1599.17 511.10,1594.37 512.80,1590.60 C514.50,1586.83 515.93,1582.68 517.50,1578.90 C519.07,1575.12 520.65,1570.50 522.20,1567.90 C523.75,1565.30 525.38,1563.17 526.80,1563.30 C528.22,1563.43 529.40,1565.45 530.70,1568.70 C532.00,1571.95 533.17,1577.20 534.60,1582.80 C536.03,1588.40 537.73,1596.45 539.30,1602.30 C540.87,1608.15 542.17,1613.73 544.00,1617.90 C545.83,1622.07 547.95,1625.48 550.30,1627.30 C552.65,1629.12 555.35,1628.97 558.10,1628.80 C560.85,1628.63 564.05,1625.67 566.80,1626.30 C569.55,1626.93 571.73,1629.73 574.60,1632.60 C577.47,1635.47 580.35,1640.52 584.00,1643.50 C587.65,1646.48 591.82,1648.68 596.50,1650.50 C601.18,1652.32 606.90,1652.97 612.10,1654.40 C617.30,1655.83 621.20,1657.80 627.70,1659.10 C634.20,1660.40 639.05,1661.58 651.10,1662.20 C663.15,1662.82 645.35,1662.63 700.00,1662.80 C754.65,1662.97 932.50,1663.13 979.00,1663.20" fill="none" stroke="#1c66da" stroke-width="4.5" stroke-linejoin="round" stroke-linecap="round"/>
<path d="M147.00,1663.10 C164.17,1663.00 225.03,1662.87 250.00,1662.50 C274.97,1662.13 283.80,1661.30 296.80,1660.90 C309.80,1660.50 319.15,1660.82 328.00,1660.10 C336.85,1659.38 344.57,1657.07 349.90,1656.60 C355.23,1656.13 356.87,1656.68 360.00,1657.30 C363.13,1657.92 365.55,1659.68 368.70,1660.30 C371.85,1660.92 375.72,1661.47 378.90,1661.00 C382.08,1660.53 385.30,1659.43 387.80,1657.50 C390.30,1655.57 392.08,1652.47 393.90,1649.40 C395.72,1646.33 397.22,1643.10 398.70,1639.10 C400.18,1635.10 401.67,1629.78 402.80,1625.40 C403.93,1621.02 404.63,1617.15 405.50,1612.80 C406.37,1608.45 407.12,1604.30 408.00,1599.30 C408.88,1594.30 409.73,1588.73 410.80,1582.80 C411.87,1576.87 413.28,1570.93 414.40,1563.70 C415.52,1556.47 416.63,1547.50 417.50,1539.40 C418.37,1531.30 418.82,1523.20 419.60,1515.10 C420.38,1507.00 421.17,1500.87 422.20,1490.80 C423.23,1480.73 424.63,1469.82 425.80,1454.70 C426.97,1439.58 428.07,1418.32 429.20,1400.10 C430.33,1381.88 431.47,1363.62 432.60,1345.40 C433.73,1327.18 435.27,1301.60 436.00,1290.80 C436.73,1280.00 436.32,1292.72 437.00,1280.60 C437.68,1268.48 438.93,1238.92 440.10,1218.10 C441.27,1197.28 442.32,1176.52 444.00,1155.70 C445.68,1134.88 448.62,1108.02 450.20,1093.20 C451.78,1078.38 452.45,1073.03 453.50,1066.80 C454.55,1060.57 455.47,1055.80 456.50,1055.80 C457.53,1055.80 458.40,1060.57 459.70,1066.80 C461.00,1073.03 462.75,1078.38 464.30,1093.20 C465.85,1108.02 467.48,1134.88 469.00,1155.70 C470.52,1176.52 472.10,1197.28 473.40,1218.10 C474.70,1238.92 476.08,1268.48 476.80,1280.60 C477.52,1292.72 477.22,1280.00 477.70,1290.80 C478.18,1301.60 478.90,1327.18 479.70,1345.40 C480.50,1363.62 481.47,1381.88 482.50,1400.10 C483.53,1418.32 484.75,1437.92 485.90,1454.70 C487.05,1471.48 488.43,1487.92 489.40,1500.80 C490.37,1513.68 490.92,1521.58 491.70,1532.00 C492.48,1542.42 493.18,1552.88 494.10,1563.30 C495.02,1573.72 496.17,1586.43 497.20,1594.50 C498.23,1602.57 499.33,1608.18 500.30,1611.70 C501.27,1615.22 501.97,1616.13 503.00,1615.60 C504.03,1615.07 505.38,1612.67 506.50,1608.50 C507.62,1604.33 508.65,1596.83 509.70,1590.60 C510.75,1584.37 511.63,1577.62 512.80,1571.10 C513.97,1564.58 515.40,1556.97 516.70,1551.50 C518.00,1546.03 519.30,1541.15 520.60,1538.30 C521.90,1535.45 523.20,1534.40 524.50,1534.40 C525.80,1534.40 527.23,1535.83 528.40,1538.30 C529.57,1540.77 530.47,1544.38 531.50,1549.20 C532.53,1554.02 533.55,1560.95 534.60,1567.20 C535.65,1573.45 536.75,1580.20 537.80,1586.70 C538.85,1593.20 539.73,1600.35 540.90,1606.20 C542.07,1612.05 543.50,1618.17 544.80,1621.80 C546.10,1625.43 547.40,1627.35 548.70,1628.00 C550.00,1628.65 551.03,1627.65 552.60,1625.70 C554.17,1623.75 556.12,1618.15 558.10,1616.30 C560.08,1614.45 562.27,1613.72 564.50,1614.60 C566.73,1615.48 569.03,1618.08 571.50,1621.60 C573.97,1625.12 576.70,1631.53 579.30,1635.70 C581.90,1639.87 584.23,1644.52 587.10,1646.60 C589.97,1648.68 593.63,1647.80 596.50,1648.20 C599.37,1648.60 601.70,1648.22 604.30,1649.00 C606.90,1649.78 608.98,1651.48 612.10,1652.90 C615.22,1654.32 619.10,1656.60 623.00,1657.50 C626.90,1658.40 630.82,1657.65 635.50,1658.30 C640.18,1658.95 642.30,1660.73 651.10,1661.40 C659.90,1662.07 673.98,1662.07 688.30,1662.30 C702.62,1662.53 688.55,1662.68 737.00,1662.80 C785.45,1662.92 938.67,1662.97 979.00,1663.00" fill="none" stroke="#2fa86e" stroke-width="4.5" stroke-linejoin="round" stroke-linecap="round"/>
<rect x="590.80" y="996.00" width="388.60" height="312.10" fill="#fff"/>
<path d="M590.80,1304.37 L591.29,1304.37 L591.77,1304.37 L592.26,1304.37 L592.74,1304.37 L593.23,1304.37 L593.71,1304.37 L594.20,1304.37 L594.69,1304.37 L595.17,1304.37 L595.66,1304.37 L596.14,1304.37 L596.63,1304.37 L597.11,1304.37 L597.60,1304.37 L598.09,1304.37 L598.57,1304.37 L599.06,1304.37 L599.54,1304.37 L600.03,1304.37 L600.51,1304.37 L601.00,1304.37 L601.49,1304.37 L601.97,1304.37 L602.46,1304.37 L602.94,1304.37 L603.43,1304.37 L603.92,1304.37 L604.40,1304.37 L604.89,1304.37 L605.37,1304.37 L605.86,1304.37 L606.34,1304.37 L606.83,1304.37 L607.32,1304.37 L607.80,1304.37 L608.29,1304.37 L608.77,1304.37 L609.26,1304.37 L609.74,1304.37 L610.23,1304.37 L610.72,1304.37 L611.20,1304.37 L611.69,1304.37 L612.17,1304.37 L612.66,1304.37 L613.14,1304.37 L613.63,1304.37 L614.12,1304.37 L614.60,1304.37 L615.09,1304.37 L615.57,1304.37 L616.06,1304.37 L616.54,1304.37 L617.03,1304.37 L617.52,1304.37 L618.00,1304.37 L618.49,1304.37 L618.97,1304.37 L619.46,1304.37 L619.94,1304.37 L620.43,1304.37 L620.92,1304.37 L621.40,1304.37 L621.89,1304.37 L622.37,1304.36 L622.86,1304.36 L623.35,1304.36 L623.83,1304.36 L624.32,1304.36 L624.80,1304.36 L625.29,1304.36 L625.77,1304.36 L626.26,1304.36 L626.75,1304.36 L627.23,1304.36 L627.72,1304.36 L628.20,1304.35 L628.69,1304.35 L629.17,1304.35 L629.66,1304.35 L630.15,1304.35 L630.63,1304.35 L631.12,1304.35 L631.60,1304.35 L632.09,1304.34 L632.57,1304.34 L633.06,1304.34 L633.55,1304.34 L634.03,1304.34 L634.52,1304.33 L635.00,1304.33 L635.49,1304.33 L635.97,1304.33 L636.46,1304.32 L636.95,1304.32 L637.43,1304.32 L637.92,1304.31 L638.40,1304.31 L638.89,1304.31 L639.37,1304.30 L639.86,1304.30 L640.35,1304.29 L640.83,1304.29 L641.32,1304.29 L641.80,1304.28 L642.29,1304.28 L642.78,1304.27 L643.26,1304.27 L643.75,1304.26 L644.23,1304.25 L644.72,1304.25 L645.20,1304.24 L645.69,1304.23 L646.18,1304.22 L646.66,1304.22 L647.15,1304.21 L647.63,1304.20 L648.12,1304.19 L648.60,1304.18 L649.09,1304.17 L649.58,1304.16 L650.06,1304.15 L650.55,1304.14 L651.03,1304.13 L651.52,1304.11 L652.00,1304.10 L652.49,1304.09 L652.98,1304.07 L653.46,1304.06 L653.95,1304.04 L654.43,1304.02 L654.92,1304.01 L655.40,1303.99 L655.89,1303.97 L656.38,1303.95 L656.86,1303.93 L657.35,1303.91 L657.83,1303.89 L658.32,1303.86 L658.80,1303.84 L659.29,1303.81 L659.78,1303.79 L660.26,1303.76 L660.75,1303.73 L661.23,1303.70 L661.72,1303.67 L662.21,1303.64 L662.69,1303.60 L663.18,1303.57 L663.66,1303.53 L664.15,1303.49 L664.63,1303.45 L665.12,1303.41 L665.61,1303.37 L666.09,1303.32 L666.58,1303.27 L667.06,1303.23 L667.55,1303.18 L668.03,1303.12 L668.52,1303.07 L669.01,1303.01 L669.49,1302.95 L669.98,1302.89 L670.46,1302.83 L670.95,1302.76 L671.43,1302.69 L671.92,1302.62 L672.41,1302.55 L672.89,1302.47 L673.38,1302.39 L673.86,1302.31 L674.35,1302.22 L674.83,1302.13 L675.32,1302.04 L675.81,1301.95 L676.29,1301.85 L676.78,1301.75 L677.26,1301.64 L677.75,1301.53 L678.23,1301.42 L678.72,1301.30 L679.21,1301.18 L679.69,1301.06 L680.18,1300.93 L680.66,1300.79 L681.15,1300.65 L681.64,1300.51 L682.12,1300.36 L682.61,1300.21 L683.09,1300.05 L683.58,1299.89 L684.06,1299.72 L684.55,1299.55 L685.04,1299.37 L685.52,1299.18 L686.01,1298.99 L686.49,1298.80 L686.98,1298.59 L687.46,1298.38 L687.95,1298.17 L688.44,1297.95 L688.92,1297.72 L689.41,1297.48 L689.89,1297.24 L690.38,1296.99 L690.86,1296.73 L691.35,1296.47 L691.84,1296.19 L692.32,1295.91 L692.81,1295.62 L693.29,1295.33 L693.78,1295.02 L694.26,1294.71 L694.75,1294.38 L695.24,1294.05 L695.72,1293.71 L696.21,1293.36 L696.69,1293.00 L697.18,1292.63 L697.66,1292.25 L698.15,1291.86 L698.64,1291.46 L699.12,1291.05 L699.61,1290.63 L700.09,1290.20 L700.58,1289.76 L701.07,1289.30 L701.55,1288.84 L702.04,1288.36 L702.52,1287.87 L703.01,1287.37 L703.49,1286.86 L703.98,1286.34 L704.47,1285.80 L704.95,1285.25 L705.44,1284.69 L705.92,1284.11 L706.41,1283.52 L706.89,1282.92 L707.38,1282.30 L707.87,1281.67 L708.35,1281.03 L708.84,1280.37 L709.32,1279.70 L709.81,1279.01 L710.29,1278.31 L710.78,1277.59 L711.27,1276.86 L711.75,1276.11 L712.24,1275.35 L712.72,1274.57 L713.21,1273.77 L713.69,1272.96 L714.18,1272.14 L714.67,1271.29 L715.15,1270.43 L715.64,1269.56 L716.12,1268.67 L716.61,1267.76 L717.09,1266.83 L717.58,1265.89 L718.07,1264.93 L718.55,1263.95 L719.04,1262.95 L719.52,1261.94 L720.01,1260.91 L720.50,1259.86 L720.98,1258.80 L721.47,1257.71 L721.95,1256.61 L722.44,1255.49 L722.92,1254.35 L723.41,1253.19 L723.90,1252.02 L724.38,1250.82 L724.87,1249.61 L725.35,1248.38 L725.84,1247.13 L726.32,1245.87 L726.81,1244.58 L727.30,1243.27 L727.78,1241.95 L728.27,1240.61 L728.75,1239.25 L729.24,1237.87 L729.72,1236.47 L730.21,1235.05 L730.70,1233.62 L731.18,1232.17 L731.67,1230.69 L732.15,1229.20 L732.64,1227.70 L733.12,1226.17 L733.61,1224.63 L734.10,1223.06 L734.58,1221.48 L735.07,1219.88 L735.55,1218.27 L736.04,1216.64 L736.52,1214.98 L737.01,1213.32 L737.50,1211.63 L737.98,1209.93 L738.47,1208.21 L738.95,1206.48 L739.44,1204.73 L739.93,1202.96 L740.41,1201.17 L740.90,1199.38 L741.38,1197.56 L741.87,1195.73 L742.35,1193.89 L742.84,1192.03 L743.33,1190.15 L743.81,1188.27 L744.30,1186.36 L744.78,1184.45 L745.27,1182.52 L745.75,1180.58 L746.24,1178.62 L746.73,1176.66 L747.21,1174.68 L747.70,1172.69 L748.18,1170.69 L748.67,1168.68 L749.15,1166.65 L749.64,1164.62 L750.13,1162.58 L750.61,1160.53 L751.10,1158.46 L751.58,1156.40 L752.07,1154.32 L752.55,1152.23 L753.04,1150.14 L753.53,1148.04 L754.01,1145.94 L754.50,1143.83 L754.98,1141.71 L755.47,1139.59 L755.95,1137.46 L756.44,1135.33 L756.93,1133.20 L757.41,1131.06 L757.90,1128.92 L758.38,1126.78 L758.87,1124.64 L759.36,1122.50 L759.84,1120.35 L760.33,1118.21 L760.81,1116.07 L761.30,1113.92 L761.78,1111.79 L762.27,1109.65 L762.76,1107.51 L763.24,1105.38 L763.73,1103.25 L764.21,1101.13 L764.70,1099.01 L765.18,1096.90 L765.67,1094.80 L766.16,1092.70 L766.64,1090.61 L767.13,1088.52 L767.61,1086.45 L768.10,1084.38 L768.58,1082.33 L769.07,1080.29 L769.56,1078.25 L770.04,1076.23 L770.53,1074.22 L771.01,1072.23 L771.50,1070.25 L771.98,1068.28 L772.47,1066.33 L772.96,1064.39 L773.44,1062.47 L773.93,1060.57 L774.41,1058.69 L774.90,1056.83 L775.38,1054.98 L775.87,1053.16 L776.36,1051.36 L776.84,1049.58 L777.33,1047.83 L777.81,1046.10 L778.30,1044.39 L778.79,1042.72 L779.27,1041.07 L779.76,1039.45 L780.24,1037.87 L780.73,1036.32 L781.21,1034.80 L781.70,1033.33 L782.19,1031.90 L782.67,1030.51 L783.16,1029.18 L783.64,1027.90 L784.13,1026.70 L784.61,1025.59 L785.10,1024.60 L785.59,1024.11 L786.07,1024.97 L786.56,1026.02 L787.04,1027.17 L787.53,1028.41 L788.01,1029.70 L788.50,1031.06 L788.99,1032.46 L789.47,1033.91 L789.96,1035.41 L790.44,1036.93 L790.93,1038.50 L791.41,1040.10 L791.90,1041.73 L792.39,1043.39 L792.87,1045.07 L793.36,1046.79 L793.84,1048.53 L794.33,1050.29 L794.81,1052.08 L795.30,1053.89 L795.79,1055.72 L796.27,1057.57 L796.76,1059.44 L797.24,1061.33 L797.73,1063.24 L798.22,1065.16 L798.70,1067.11 L799.19,1069.06 L799.67,1071.04 L800.16,1073.02 L800.64,1075.02 L801.13,1077.04 L801.62,1079.06 L802.10,1081.10 L802.59,1083.15 L803.07,1085.21 L803.56,1087.28 L804.04,1089.36 L804.53,1091.44 L805.02,1093.54 L805.50,1095.64 L805.99,1097.75 L806.47,1099.86 L806.96,1101.98 L807.44,1104.10 L807.93,1106.23 L808.42,1108.37 L808.90,1110.50 L809.39,1112.64 L809.87,1114.78 L810.36,1116.92 L810.84,1119.07 L811.33,1121.21 L811.82,1123.35 L812.30,1125.50 L812.79,1127.64 L813.27,1129.78 L813.76,1131.92 L814.24,1134.05 L814.73,1136.18 L815.22,1138.31 L815.70,1140.44 L816.19,1142.56 L816.67,1144.67 L817.16,1146.78 L817.65,1148.88 L818.13,1150.98 L818.62,1153.07 L819.10,1155.15 L819.59,1157.22 L820.07,1159.29 L820.56,1161.35 L821.05,1163.40 L821.53,1165.43 L822.02,1167.46 L822.50,1169.48 L822.99,1171.49 L823.47,1173.49 L823.96,1175.47 L824.45,1177.45 L824.93,1179.41 L825.42,1181.36 L825.90,1183.29 L826.39,1185.22 L826.87,1187.13 L827.36,1189.02 L827.85,1190.90 L828.33,1192.77 L828.82,1194.63 L829.30,1196.46 L829.79,1198.29 L830.27,1200.10 L830.76,1201.89 L831.25,1203.67 L831.73,1205.43 L832.22,1207.17 L832.70,1208.90 L833.19,1210.61 L833.67,1212.31 L834.16,1213.99 L834.65,1215.65 L835.13,1217.29 L835.62,1218.92 L836.10,1220.53 L836.59,1222.12 L837.08,1223.69 L837.56,1225.25 L838.05,1226.78 L838.53,1228.30 L839.02,1229.80 L839.50,1231.29 L839.99,1232.75 L840.48,1234.20 L840.96,1235.62 L841.45,1237.03 L841.93,1238.42 L842.42,1239.79 L842.90,1241.15 L843.39,1242.48 L843.88,1243.80 L844.36,1245.10 L844.85,1246.37 L845.33,1247.63 L845.82,1248.88 L846.30,1250.10 L846.79,1251.30 L847.28,1252.49 L847.76,1253.66 L848.25,1254.81 L848.73,1255.94 L849.22,1257.05 L849.70,1258.15 L850.19,1259.22 L850.68,1260.28 L851.16,1261.32 L851.65,1262.35 L852.13,1263.35 L852.62,1264.34 L853.10,1265.31 L853.59,1266.27 L854.08,1267.20 L854.56,1268.12 L855.05,1269.02 L855.53,1269.91 L856.02,1270.78 L856.51,1271.63 L856.99,1272.47 L857.48,1273.29 L857.96,1274.09 L858.45,1274.88 L858.93,1275.65 L859.42,1276.41 L859.91,1277.15 L860.39,1277.88 L860.88,1278.59 L861.36,1279.28 L861.85,1279.97 L862.33,1280.63 L862.82,1281.29 L863.31,1281.93 L863.79,1282.55 L864.28,1283.16 L864.76,1283.76 L865.25,1284.34 L865.73,1284.91 L866.22,1285.47 L866.71,1286.02 L867.19,1286.55 L867.68,1287.07 L868.16,1287.58 L868.65,1288.07 L869.13,1288.56 L869.62,1289.03 L870.11,1289.49 L870.59,1289.94 L871.08,1290.37 L871.56,1290.80 L872.05,1291.22 L872.53,1291.62 L873.02,1292.02 L873.51,1292.40 L873.99,1292.78 L874.48,1293.15 L874.96,1293.50 L875.45,1293.85 L875.94,1294.19 L876.42,1294.51 L876.91,1294.83 L877.39,1295.14 L877.88,1295.45 L878.36,1295.74 L878.85,1296.03 L879.34,1296.30 L879.82,1296.57 L880.31,1296.83 L880.79,1297.09 L881.28,1297.34 L881.76,1297.58 L882.25,1297.81 L882.74,1298.04 L883.22,1298.26 L883.71,1298.47 L884.19,1298.68 L884.68,1298.88 L885.16,1299.07 L885.65,1299.26 L886.14,1299.44 L886.62,1299.62 L887.11,1299.79 L887.59,1299.96 L888.08,1300.12 L888.56,1300.27 L889.05,1300.42 L889.54,1300.57 L890.02,1300.71 L890.51,1300.85 L890.99,1300.98 L891.48,1301.11 L891.96,1301.23 L892.45,1301.35 L892.94,1301.46 L893.42,1301.58 L893.91,1301.68 L894.39,1301.79 L894.88,1301.89 L895.37,1301.99 L895.85,1302.08 L896.34,1302.17 L896.82,1302.26 L897.31,1302.34 L897.79,1302.42 L898.28,1302.50 L898.77,1302.58 L899.25,1302.65 L899.74,1302.72 L900.22,1302.79 L900.71,1302.85 L901.19,1302.92 L901.68,1302.98 L902.17,1303.03 L902.65,1303.09 L903.14,1303.14 L903.62,1303.20 L904.11,1303.25 L904.59,1303.29 L905.08,1303.34 L905.57,1303.38 L906.05,1303.43 L906.54,1303.47 L907.02,1303.51 L907.51,1303.54 L907.99,1303.58 L908.48,1303.62 L908.97,1303.65 L909.45,1303.68 L909.94,1303.71 L910.42,1303.74 L910.91,1303.77 L911.39,1303.80 L911.88,1303.82 L912.37,1303.85 L912.85,1303.87 L913.34,1303.90 L913.82,1303.92 L914.31,1303.94 L914.80,1303.96 L915.28,1303.98 L915.77,1304.00 L916.25,1304.01 L916.74,1304.03 L917.22,1304.05 L917.71,1304.06 L918.20,1304.08 L918.68,1304.09 L919.17,1304.11 L919.65,1304.12 L920.14,1304.13 L920.62,1304.14 L921.11,1304.15 L921.60,1304.17 L922.08,1304.18 L922.57,1304.19 L923.05,1304.19 L923.54,1304.20 L924.02,1304.21 L924.51,1304.22 L925.00,1304.23 L925.48,1304.24 L925.97,1304.24 L926.45,1304.25 L926.94,1304.26 L927.42,1304.26 L927.91,1304.27 L928.40,1304.27 L928.88,1304.28 L929.37,1304.28 L929.85,1304.29 L930.34,1304.29 L930.82,1304.30 L931.31,1304.30 L931.80,1304.30 L932.28,1304.31 L932.77,1304.31 L933.25,1304.32 L933.74,1304.32 L934.23,1304.32 L934.71,1304.32 L935.20,1304.33 L935.68,1304.33 L936.17,1304.33 L936.65,1304.33 L937.14,1304.34 L937.63,1304.34 L938.11,1304.34 L938.60,1304.34 L939.08,1304.34 L939.57,1304.35 L940.05,1304.35 L940.54,1304.35 L941.03,1304.35 L941.51,1304.35 L942.00,1304.35 L942.48,1304.35 L942.97,1304.36 L943.45,1304.36 L943.94,1304.36 L944.43,1304.36 L944.91,1304.36 L945.40,1304.36 L945.88,1304.36 L946.37,1304.36 L946.85,1304.36 L947.34,1304.36 L947.83,1304.36 L948.31,1304.36 L948.80,1304.36 L949.28,1304.37 L949.77,1304.37 L950.25,1304.37 L950.74,1304.37 L951.23,1304.37 L951.71,1304.37 L952.20,1304.37 L952.68,1304.37 L953.17,1304.37 L953.66,1304.37 L954.14,1304.37 L954.63,1304.37 L955.11,1304.37 L955.60,1304.37 L956.08,1304.37 L956.57,1304.37 L957.06,1304.37 L957.54,1304.37 L958.03,1304.37 L958.51,1304.37 L959.00,1304.37 L959.48,1304.37 L959.97,1304.37 L960.46,1304.37 L960.94,1304.37 L961.43,1304.37 L961.91,1304.37 L962.40,1304.37 L962.88,1304.37 L963.37,1304.37 L963.86,1304.37 L964.34,1304.37 L964.83,1304.37 L965.31,1304.37 L965.80,1304.37 L966.28,1304.37 L966.77,1304.37 L967.26,1304.37 L967.74,1304.37 L968.23,1304.37 L968.71,1304.37 L969.20,1304.37 L969.68,1304.37 L970.17,1304.37 L970.66,1304.37 L971.14,1304.37 L971.63,1304.37 L972.11,1304.37 L972.60,1304.37 L973.09,1304.37 L973.57,1304.37 L974.06,1304.37 L974.54,1304.37 L975.03,1304.37 L975.51,1304.37 L976.00,1304.37 L976.49,1304.37 L976.97,1304.37 L977.46,1304.37 L977.94,1304.37 L978.43,1304.37 L978.91,1304.37 L979.40,1304.37" fill="none" stroke="#505050" stroke-width="3.0" stroke-linejoin="round"/>
<path d="M590.80,1304.37 L591.29,1304.37 L591.77,1304.37 L592.26,1304.37 L592.74,1304.37 L593.23,1304.37 L593.71,1304.37 L594.20,1304.37 L594.69,1304.37 L595.17,1304.37 L595.66,1304.37 L596.14,1304.37 L596.63,1304.37 L597.11,1304.37 L597.60,1304.37 L598.09,1304.37 L598.57,1304.37 L599.06,1304.37 L599.54,1304.37 L600.03,1304.37 L600.51,1304.37 L601.00,1304.37 L601.49,1304.37 L601.97,1304.37 L602.46,1304.37 L602.94,1304.37 L603.43,1304.37 L603.92,1304.37 L604.40,1304.37 L604.89,1304.37 L605.37,1304.37 L605.86,1304.37 L606.34,1304.37 L606.83,1304.37 L607.32,1304.37 L607.80,1304.37 L608.29,1304.37 L608.77,1304.37 L609.26,1304.37 L609.74,1304.37 L610.23,1304.37 L610.72,1304.37 L611.20,1304.37 L611.69,1304.37 L612.17,1304.37 L612.66,1304.37 L613.14,1304.37 L613.63,1304.37 L614.12,1304.37 L614.60,1304.37 L615.09,1304.37 L615.57,1304.37 L616.06,1304.37 L616.54,1304.37 L617.03,1304.37 L617.52,1304.37 L618.00,1304.37 L618.49,1304.37 L618.97,1304.37 L619.46,1304.37 L619.94,1304.37 L620.43,1304.37 L620.92,1304.37 L621.40,1304.37 L621.89,1304.37 L622.37,1304.37 L622.86,1304.37 L623.35,1304.37 L623.83,1304.37 L624.32,1304.37 L624.80,1304.37 L625.29,1304.37 L625.77,1304.37 L626.26,1304.37 L626.75,1304.37 L627.23,1304.37 L627.72,1304.37 L628.20,1304.37 L628.69,1304.37 L629.17,1304.37 L629.66,1304.37 L630.15,1304.37 L630.63,1304.37 L631.12,1304.37 L631.60,1304.37 L632.09,1304.37 L632.57,1304.37 L633.06,1304.36 L633.55,1304.36 L634.03,1304.36 L634.52,1304.36 L635.00,1304.36 L635.49,1304.36 L635.97,1304.36 L636.46,1304.36 L636.95,1304.36 L637.43,1304.35 L637.92,1304.35 L638.40,1304.35 L638.89,1304.35 L639.37,1304.35 L639.86,1304.35 L640.35,1304.34 L640.83,1304.34 L641.32,1304.34 L641.80,1304.34 L642.29,1304.33 L642.78,1304.33 L643.26,1304.33 L643.75,1304.32 L644.23,1304.32 L644.72,1304.32 L645.20,1304.31 L645.69,1304.31 L646.18,1304.30 L646.66,1304.30 L647.15,1304.29 L647.63,1304.29 L648.12,1304.28 L648.60,1304.27 L649.09,1304.27 L649.58,1304.26 L650.06,1304.25 L650.55,1304.24 L651.03,1304.23 L651.52,1304.23 L652.00,1304.22 L652.49,1304.20 L652.98,1304.19 L653.46,1304.18 L653.95,1304.17 L654.43,1304.16 L654.92,1304.14 L655.40,1304.13 L655.89,1304.11 L656.38,1304.10 L656.86,1304.08 L657.35,1304.06 L657.83,1304.04 L658.32,1304.02 L658.80,1304.00 L659.29,1303.97 L659.78,1303.95 L660.26,1303.92 L660.75,1303.90 L661.23,1303.87 L661.72,1303.84 L662.21,1303.81 L662.69,1303.78 L663.18,1303.74 L663.66,1303.70 L664.15,1303.67 L664.63,1303.63 L665.12,1303.58 L665.61,1303.54 L666.09,1303.49 L666.58,1303.45 L667.06,1303.39 L667.55,1303.34 L668.03,1303.28 L668.52,1303.23 L669.01,1303.16 L669.49,1303.10 L669.98,1303.03 L670.46,1302.96 L670.95,1302.89 L671.43,1302.81 L671.92,1302.73 L672.41,1302.65 L672.89,1302.56 L673.38,1302.47 L673.86,1302.38 L674.35,1302.28 L674.83,1302.17 L675.32,1302.07 L675.81,1301.95 L676.29,1301.84 L676.78,1301.72 L677.26,1301.59 L677.75,1301.46 L678.23,1301.32 L678.72,1301.18 L679.21,1301.03 L679.69,1300.88 L680.18,1300.72 L680.66,1300.55 L681.15,1300.38 L681.64,1300.20 L682.12,1300.02 L682.61,1299.83 L683.09,1299.63 L683.58,1299.42 L684.06,1299.21 L684.55,1298.99 L685.04,1298.76 L685.52,1298.53 L686.01,1298.28 L686.49,1298.03 L686.98,1297.77 L687.46,1297.50 L687.95,1297.22 L688.44,1296.93 L688.92,1296.64 L689.41,1296.33 L689.89,1296.02 L690.38,1295.69 L690.86,1295.35 L691.35,1295.01 L691.84,1294.65 L692.32,1294.28 L692.81,1293.90 L693.29,1293.51 L693.78,1293.11 L694.26,1292.70 L694.75,1292.27 L695.24,1291.84 L695.72,1291.39 L696.21,1290.93 L696.69,1290.45 L697.18,1289.96 L697.66,1289.46 L698.15,1288.95 L698.64,1288.42 L699.12,1287.88 L699.61,1287.33 L700.09,1286.76 L700.58,1286.18 L701.07,1285.58 L701.55,1284.97 L702.04,1284.35 L702.52,1283.71 L703.01,1283.05 L703.49,1282.38 L703.98,1281.70 L704.47,1280.99 L704.95,1280.28 L705.44,1279.54 L705.92,1278.80 L706.41,1278.03 L706.89,1277.25 L707.38,1276.45 L707.87,1275.64 L708.35,1274.81 L708.84,1273.96 L709.32,1273.10 L709.81,1272.22 L710.29,1271.32 L710.78,1270.40 L711.27,1269.47 L711.75,1268.52 L712.24,1267.56 L712.72,1266.58 L713.21,1265.58 L713.69,1264.56 L714.18,1263.52 L714.67,1262.47 L715.15,1261.40 L715.64,1260.31 L716.12,1259.21 L716.61,1258.08 L717.09,1256.94 L717.58,1255.79 L718.07,1254.61 L718.55,1253.42 L719.04,1252.21 L719.52,1250.99 L720.01,1249.74 L720.50,1248.48 L720.98,1247.20 L721.47,1245.91 L721.95,1244.60 L722.44,1243.27 L722.92,1241.93 L723.41,1240.56 L723.90,1239.19 L724.38,1237.79 L724.87,1236.38 L725.35,1234.96 L725.84,1233.52 L726.32,1232.06 L726.81,1230.58 L727.30,1229.10 L727.78,1227.59 L728.27,1226.07 L728.75,1224.54 L729.24,1222.99 L729.72,1221.43 L730.21,1219.86 L730.70,1218.27 L731.18,1216.66 L731.67,1215.05 L732.15,1213.42 L732.64,1211.77 L733.12,1210.12 L733.61,1208.45 L734.10,1206.77 L734.58,1205.08 L735.07,1203.37 L735.55,1201.66 L736.04,1199.93 L736.52,1198.20 L737.01,1196.45 L737.50,1194.69 L737.98,1192.93 L738.47,1191.15 L738.95,1189.36 L739.44,1187.57 L739.93,1185.76 L740.41,1183.95 L740.90,1182.13 L741.38,1180.31 L741.87,1178.47 L742.35,1176.63 L742.84,1174.78 L743.33,1172.93 L743.81,1171.07 L744.30,1169.20 L744.78,1167.33 L745.27,1165.45 L745.75,1163.57 L746.24,1161.68 L746.73,1159.79 L747.21,1157.90 L747.70,1156.00 L748.18,1154.10 L748.67,1152.20 L749.15,1150.29 L749.64,1148.39 L750.13,1146.48 L750.61,1144.57 L751.10,1142.65 L751.58,1140.74 L752.07,1138.83 L752.55,1136.91 L753.04,1135.00 L753.53,1133.09 L754.01,1131.18 L754.50,1129.27 L754.98,1127.36 L755.47,1125.45 L755.95,1123.54 L756.44,1121.64 L756.93,1119.74 L757.41,1117.84 L757.90,1115.94 L758.38,1114.05 L758.87,1112.16 L759.36,1110.28 L759.84,1108.40 L760.33,1106.53 L760.81,1104.66 L761.30,1102.79 L761.78,1100.93 L762.27,1099.08 L762.76,1097.23 L763.24,1095.38 L763.73,1093.55 L764.21,1091.72 L764.70,1089.89 L765.18,1088.08 L765.67,1086.27 L766.16,1084.47 L766.64,1082.68 L767.13,1080.89 L767.61,1079.11 L768.10,1077.34 L768.58,1075.59 L769.07,1073.84 L769.56,1072.09 L770.04,1070.36 L770.53,1068.64 L771.01,1066.93 L771.50,1065.23 L771.98,1063.54 L772.47,1061.86 L772.96,1060.19 L773.44,1058.54 L773.93,1056.89 L774.41,1055.26 L774.90,1053.65 L775.38,1052.04 L775.87,1050.45 L776.36,1048.87 L776.84,1047.31 L777.33,1045.77 L777.81,1044.24 L778.30,1042.73 L778.79,1041.24 L779.27,1039.77 L779.76,1038.31 L780.24,1036.88 L780.73,1035.48 L781.21,1034.10 L781.70,1032.75 L782.19,1031.43 L782.67,1030.15 L783.16,1028.90 L783.64,1027.71 L784.13,1026.58 L784.61,1025.52 L785.10,1024.57 L785.59,1024.11 L786.07,1024.93 L786.56,1025.93 L787.04,1027.02 L787.53,1028.18 L788.01,1029.40 L788.50,1030.66 L788.99,1031.95 L789.47,1033.29 L789.96,1034.65 L790.44,1036.04 L790.93,1037.45 L791.41,1038.89 L791.90,1040.35 L792.39,1041.83 L792.87,1043.33 L793.36,1044.85 L793.84,1046.39 L794.33,1047.94 L794.81,1049.50 L795.30,1051.08 L795.79,1052.68 L796.27,1054.29 L796.76,1055.91 L797.24,1057.55 L797.73,1059.20 L798.22,1060.86 L798.70,1062.53 L799.19,1064.21 L799.67,1065.91 L800.16,1067.61 L800.64,1069.33 L801.13,1071.05 L801.62,1072.79 L802.10,1074.53 L802.59,1076.29 L803.07,1078.05 L803.56,1079.82 L804.04,1081.60 L804.53,1083.39 L805.02,1085.19 L805.50,1086.99 L805.99,1088.80 L806.47,1090.62 L806.96,1092.45 L807.44,1094.28 L807.93,1096.12 L808.42,1097.97 L808.90,1099.82 L809.39,1101.67 L809.87,1103.54 L810.36,1105.40 L810.84,1107.28 L811.33,1109.15 L811.82,1111.03 L812.30,1112.92 L812.79,1114.81 L813.27,1116.70 L813.76,1118.60 L814.24,1120.50 L814.73,1122.40 L815.22,1124.30 L815.70,1126.21 L816.19,1128.12 L816.67,1130.03 L817.16,1131.94 L817.65,1133.85 L818.13,1135.77 L818.62,1137.68 L819.10,1139.59 L819.59,1141.51 L820.07,1143.42 L820.56,1145.33 L821.05,1147.24 L821.53,1149.15 L822.02,1151.06 L822.50,1152.96 L822.99,1154.86 L823.47,1156.76 L823.96,1158.66 L824.45,1160.55 L824.93,1162.44 L825.42,1164.32 L825.90,1166.20 L826.39,1168.08 L826.87,1169.95 L827.36,1171.81 L827.85,1173.67 L828.33,1175.52 L828.82,1177.37 L829.30,1179.21 L829.79,1181.04 L830.27,1182.86 L830.76,1184.68 L831.25,1186.49 L831.73,1188.29 L832.22,1190.08 L832.70,1191.86 L833.19,1193.63 L833.67,1195.40 L834.16,1197.15 L834.65,1198.89 L835.13,1200.62 L835.62,1202.35 L836.10,1204.06 L836.59,1205.76 L837.08,1207.44 L837.56,1209.12 L838.05,1210.78 L838.53,1212.43 L839.02,1214.07 L839.50,1215.69 L839.99,1217.31 L840.48,1218.90 L840.96,1220.49 L841.45,1222.06 L841.93,1223.61 L842.42,1225.16 L842.90,1226.68 L843.39,1228.20 L843.88,1229.69 L844.36,1231.18 L844.85,1232.64 L845.33,1234.09 L845.82,1235.53 L846.30,1236.95 L846.79,1238.35 L847.28,1239.74 L847.76,1241.11 L848.25,1242.47 L848.73,1243.80 L849.22,1245.13 L849.70,1246.43 L850.19,1247.72 L850.68,1248.99 L851.16,1250.24 L851.65,1251.48 L852.13,1252.70 L852.62,1253.90 L853.10,1255.09 L853.59,1256.25 L854.08,1257.40 L854.56,1258.54 L855.05,1259.65 L855.53,1260.75 L856.02,1261.83 L856.51,1262.89 L856.99,1263.94 L857.48,1264.97 L857.96,1265.98 L858.45,1266.97 L858.93,1267.95 L859.42,1268.91 L859.91,1269.85 L860.39,1270.77 L860.88,1271.68 L861.36,1272.57 L861.85,1273.44 L862.33,1274.30 L862.82,1275.14 L863.31,1275.97 L863.79,1276.77 L864.28,1277.56 L864.76,1278.34 L865.25,1279.10 L865.73,1279.84 L866.22,1280.57 L866.71,1281.28 L867.19,1281.97 L867.68,1282.65 L868.16,1283.32 L868.65,1283.97 L869.13,1284.60 L869.62,1285.22 L870.11,1285.82 L870.59,1286.42 L871.08,1286.99 L871.56,1287.55 L872.05,1288.10 L872.53,1288.64 L873.02,1289.16 L873.51,1289.67 L873.99,1290.16 L874.48,1290.64 L874.96,1291.11 L875.45,1291.57 L875.94,1292.01 L876.42,1292.44 L876.91,1292.86 L877.39,1293.27 L877.88,1293.67 L878.36,1294.06 L878.85,1294.43 L879.34,1294.79 L879.82,1295.15 L880.31,1295.49 L880.79,1295.82 L881.28,1296.14 L881.76,1296.46 L882.25,1296.76 L882.74,1297.05 L883.22,1297.33 L883.71,1297.61 L884.19,1297.88 L884.68,1298.13 L885.16,1298.38 L885.65,1298.62 L886.14,1298.86 L886.62,1299.08 L887.11,1299.30 L887.59,1299.51 L888.08,1299.71 L888.56,1299.91 L889.05,1300.09 L889.54,1300.28 L890.02,1300.45 L890.51,1300.62 L890.99,1300.78 L891.48,1300.94 L891.96,1301.09 L892.45,1301.24 L892.94,1301.38 L893.42,1301.51 L893.91,1301.64 L894.39,1301.77 L894.88,1301.89 L895.37,1302.00 L895.85,1302.11 L896.34,1302.22 L896.82,1302.32 L897.31,1302.41 L897.79,1302.51 L898.28,1302.60 L898.77,1302.68 L899.25,1302.77 L899.74,1302.84 L900.22,1302.92 L900.71,1302.99 L901.19,1303.06 L901.68,1303.13 L902.17,1303.19 L902.65,1303.25 L903.14,1303.31 L903.62,1303.36 L904.11,1303.41 L904.59,1303.46 L905.08,1303.51 L905.57,1303.56 L906.05,1303.60 L906.54,1303.64 L907.02,1303.68 L907.51,1303.72 L907.99,1303.76 L908.48,1303.79 L908.97,1303.82 L909.45,1303.85 L909.94,1303.88 L910.42,1303.91 L910.91,1303.93 L911.39,1303.96 L911.88,1303.98 L912.37,1304.01 L912.85,1304.03 L913.34,1304.05 L913.82,1304.07 L914.31,1304.08 L914.80,1304.10 L915.28,1304.12 L915.77,1304.13 L916.25,1304.15 L916.74,1304.16 L917.22,1304.17 L917.71,1304.19 L918.20,1304.20 L918.68,1304.21 L919.17,1304.22 L919.65,1304.23 L920.14,1304.24 L920.62,1304.25 L921.11,1304.25 L921.60,1304.26 L922.08,1304.27 L922.57,1304.28 L923.05,1304.28 L923.54,1304.29 L924.02,1304.29 L924.51,1304.30 L925.00,1304.30 L925.48,1304.31 L925.97,1304.31 L926.45,1304.32 L926.94,1304.32 L927.42,1304.33 L927.91,1304.33 L928.40,1304.33 L928.88,1304.33 L929.37,1304.34 L929.85,1304.34 L930.34,1304.34 L930.82,1304.34 L931.31,1304.35 L931.80,1304.35 L932.28,1304.35 L932.77,1304.35 L933.25,1304.35 L933.74,1304.36 L934.23,1304.36 L934.71,1304.36 L935.20,1304.36 L935.68,1304.36 L936.17,1304.36 L936.65,1304.36 L937.14,1304.36 L937.63,1304.36 L938.11,1304.36 L938.60,1304.37 L939.08,1304.37 L939.57,1304.37 L940.05,1304.37 L940.54,1304.37 L941.03,1304.37 L941.51,1304.37 L942.00,1304.37 L942.48,1304.37 L942.97,1304.37 L943.45,1304.37 L943.94,1304.37 L944.43,1304.37 L944.91,1304.37 L945.40,1304.37 L945.88,1304.37 L946.37,1304.37 L946.85,1304.37 L947.34,1304.37 L947.83,1304.37 L948.31,1304.37 L948.80,1304.37 L949.28,1304.37 L949.77,1304.37 L950.25,1304.37 L950.74,1304.37 L951.23,1304.37 L951.71,1304.37 L952.20,1304.37 L952.68,1304.37 L953.17,1304.37 L953.66,1304.37 L954.14,1304.37 L954.63,1304.37 L955.11,1304.37 L955.60,1304.37 L956.08,1304.37 L956.57,1304.37 L957.06,1304.37 L957.54,1304.37 L958.03,1304.37 L958.51,1304.37 L959.00,1304.37 L959.48,1304.37 L959.97,1304.37 L960.46,1304.37 L960.94,1304.37 L961.43,1304.37 L961.91,1304.37 L962.40,1304.37 L962.88,1304.37 L963.37,1304.37 L963.86,1304.37 L964.34,1304.37 L964.83,1304.37 L965.31,1304.37 L965.80,1304.37 L966.28,1304.37 L966.77,1304.37 L967.26,1304.37 L967.74,1304.37 L968.23,1304.37 L968.71,1304.37 L969.20,1304.37 L969.68,1304.37 L970.17,1304.37 L970.66,1304.37 L971.14,1304.37 L971.63,1304.37 L972.11,1304.37 L972.60,1304.37 L973.09,1304.37 L973.57,1304.37 L974.06,1304.37 L974.54,1304.37 L975.03,1304.37 L975.51,1304.37 L976.00,1304.37 L976.49,1304.37 L976.97,1304.37 L977.46,1304.37 L977.94,1304.37 L978.43,1304.37 L978.91,1304.37 L979.40,1304.37" fill="none" stroke="#ef3f3f" stroke-width="3.0" stroke-linejoin="round"/>
<path d="M590.80,1304.37 L591.29,1304.37 L591.77,1304.37 L592.26,1304.37 L592.74,1304.37 L593.23,1304.37 L593.71,1304.37 L594.20,1304.37 L594.69,1304.37 L595.17,1304.37 L595.66,1304.37 L596.14,1304.37 L596.63,1304.37 L597.11,1304.37 L597.60,1304.37 L598.09,1304.37 L598.57,1304.37 L599.06,1304.37 L599.54,1304.37 L600.03,1304.37 L600.51,1304.37 L601.00,1304.37 L601.49,1304.37 L601.97,1304.37 L602.46,1304.37 L602.94,1304.37 L603.43,1304.37 L603.92,1304.37 L604.40,1304.37 L604.89,1304.37 L605.37,1304.37 L605.86,1304.37 L606.34,1304.37 L606.83,1304.37 L607.32,1304.37 L607.80,1304.37 L608.29,1304.37 L608.77,1304.37 L609.26,1304.37 L609.74,1304.37 L610.23,1304.37 L610.72,1304.37 L611.20,1304.37 L611.69,1304.37 L612.17,1304.37 L612.66,1304.37 L613.14,1304.37 L613.63,1304.37 L614.12,1304.37 L614.60,1304.37 L615.09,1304.37 L615.57,1304.37 L616.06,1304.37 L616.54,1304.37 L617.03,1304.37 L617.52,1304.37 L618.00,1304.37 L618.49,1304.37 L618.97,1304.37 L619.46,1304.37 L619.94,1304.37 L620.43,1304.37 L620.92,1304.37 L621.40,1304.37 L621.89,1304.37 L622.37,1304.37 L622.86,1304.37 L623.35,1304.37 L623.83,1304.37 L624.32,1304.37 L624.80,1304.37 L625.29,1304.37 L625.77,1304.37 L626.26,1304.37 L626.75,1304.37 L627.23,1304.37 L627.72,1304.37 L628.20,1304.37 L628.69,1304.37 L629.17,1304.37 L629.66,1304.37 L630.15,1304.37 L630.63,1304.37 L631.12,1304.37 L631.60,1304.37 L632.09,1304.36 L632.57,1304.36 L633.06,1304.36 L633.55,1304.36 L634.03,1304.36 L634.52,1304.36 L635.00,1304.36 L635.49,1304.36 L635.97,1304.36 L636.46,1304.35 L636.95,1304.35 L637.43,1304.35 L637.92,1304.35 L638.40,1304.35 L638.89,1304.34 L639.37,1304.34 L639.86,1304.34 L640.35,1304.34 L640.83,1304.33 L641.32,1304.33 L641.80,1304.33 L642.29,1304.32 L642.78,1304.32 L643.26,1304.31 L643.75,1304.31 L644.23,1304.30 L644.72,1304.30 L645.20,1304.29 L645.69,1304.29 L646.18,1304.28 L646.66,1304.27 L647.15,1304.27 L647.63,1304.26 L648.12,1304.25 L648.60,1304.24 L649.09,1304.23 L649.58,1304.22 L650.06,1304.21 L650.55,1304.20 L651.03,1304.18 L651.52,1304.17 L652.00,1304.16 L652.49,1304.14 L652.98,1304.13 L653.46,1304.11 L653.95,1304.09 L654.43,1304.07 L654.92,1304.05 L655.40,1304.03 L655.89,1304.01 L656.38,1303.99 L656.86,1303.96 L657.35,1303.93 L657.83,1303.91 L658.32,1303.88 L658.80,1303.84 L659.29,1303.81 L659.78,1303.78 L660.26,1303.74 L660.75,1303.70 L661.23,1303.66 L661.72,1303.62 L662.21,1303.57 L662.69,1303.52 L663.18,1303.47 L663.66,1303.42 L664.15,1303.36 L664.63,1303.31 L665.12,1303.25 L665.61,1303.18 L666.09,1303.11 L666.58,1303.04 L667.06,1302.97 L667.55,1302.89 L668.03,1302.81 L668.52,1302.72 L669.01,1302.63 L669.49,1302.54 L669.98,1302.44 L670.46,1302.34 L670.95,1302.23 L671.43,1302.12 L671.92,1302.01 L672.41,1301.88 L672.89,1301.76 L673.38,1301.62 L673.86,1301.49 L674.35,1301.34 L674.83,1301.19 L675.32,1301.04 L675.81,1300.87 L676.29,1300.70 L676.78,1300.53 L677.26,1300.35 L677.75,1300.16 L678.23,1299.96 L678.72,1299.75 L679.21,1299.54 L679.69,1299.32 L680.18,1299.09 L680.66,1298.85 L681.15,1298.60 L681.64,1298.35 L682.12,1298.08 L682.61,1297.81 L683.09,1297.53 L683.58,1297.23 L684.06,1296.93 L684.55,1296.62 L685.04,1296.29 L685.52,1295.96 L686.01,1295.61 L686.49,1295.25 L686.98,1294.88 L687.46,1294.50 L687.95,1294.11 L688.44,1293.71 L688.92,1293.29 L689.41,1292.86 L689.89,1292.42 L690.38,1291.96 L690.86,1291.49 L691.35,1291.01 L691.84,1290.51 L692.32,1290.00 L692.81,1289.48 L693.29,1288.94 L693.78,1288.39 L694.26,1287.82 L694.75,1287.24 L695.24,1286.64 L695.72,1286.02 L696.21,1285.39 L696.69,1284.75 L697.18,1284.09 L697.66,1283.41 L698.15,1282.72 L698.64,1282.01 L699.12,1281.28 L699.61,1280.54 L700.09,1279.78 L700.58,1279.00 L701.07,1278.20 L701.55,1277.39 L702.04,1276.56 L702.52,1275.72 L703.01,1274.85 L703.49,1273.97 L703.98,1273.07 L704.47,1272.15 L704.95,1271.21 L705.44,1270.26 L705.92,1269.29 L706.41,1268.30 L706.89,1267.29 L707.38,1266.26 L707.87,1265.22 L708.35,1264.16 L708.84,1263.08 L709.32,1261.98 L709.81,1260.86 L710.29,1259.72 L710.78,1258.57 L711.27,1257.40 L711.75,1256.21 L712.24,1255.00 L712.72,1253.78 L713.21,1252.54 L713.69,1251.27 L714.18,1250.00 L714.67,1248.70 L715.15,1247.39 L715.64,1246.06 L716.12,1244.71 L716.61,1243.35 L717.09,1241.97 L717.58,1240.57 L718.07,1239.16 L718.55,1237.73 L719.04,1236.29 L719.52,1234.83 L720.01,1233.35 L720.50,1231.86 L720.98,1230.35 L721.47,1228.83 L721.95,1227.30 L722.44,1225.75 L722.92,1224.19 L723.41,1222.61 L723.90,1221.02 L724.38,1219.42 L724.87,1217.80 L725.35,1216.17 L725.84,1214.53 L726.32,1212.88 L726.81,1211.22 L727.30,1209.54 L727.78,1207.85 L728.27,1206.16 L728.75,1204.45 L729.24,1202.74 L729.72,1201.01 L730.21,1199.28 L730.70,1197.53 L731.18,1195.78 L731.67,1194.02 L732.15,1192.25 L732.64,1190.48 L733.12,1188.70 L733.61,1186.91 L734.10,1185.12 L734.58,1183.32 L735.07,1181.51 L735.55,1179.70 L736.04,1177.89 L736.52,1176.07 L737.01,1174.24 L737.50,1172.42 L737.98,1170.59 L738.47,1168.76 L738.95,1166.92 L739.44,1165.09 L739.93,1163.25 L740.41,1161.41 L740.90,1159.57 L741.38,1157.73 L741.87,1155.89 L742.35,1154.06 L742.84,1152.22 L743.33,1150.38 L743.81,1148.54 L744.30,1146.71 L744.78,1144.88 L745.27,1143.05 L745.75,1141.22 L746.24,1139.40 L746.73,1137.58 L747.21,1135.76 L747.70,1133.95 L748.18,1132.14 L748.67,1130.34 L749.15,1128.54 L749.64,1126.75 L750.13,1124.96 L750.61,1123.18 L751.10,1121.41 L751.58,1119.64 L752.07,1117.88 L752.55,1116.12 L753.04,1114.38 L753.53,1112.64 L754.01,1110.91 L754.50,1109.18 L754.98,1107.47 L755.47,1105.76 L755.95,1104.06 L756.44,1102.37 L756.93,1100.69 L757.41,1099.02 L757.90,1097.35 L758.38,1095.70 L758.87,1094.06 L759.36,1092.43 L759.84,1090.80 L760.33,1089.19 L760.81,1087.59 L761.30,1086.00 L761.78,1084.41 L762.27,1082.84 L762.76,1081.29 L763.24,1079.74 L763.73,1078.20 L764.21,1076.67 L764.70,1075.16 L765.18,1073.66 L765.67,1072.17 L766.16,1070.69 L766.64,1069.22 L767.13,1067.76 L767.61,1066.32 L768.10,1064.89 L768.58,1063.47 L769.07,1062.06 L769.56,1060.66 L770.04,1059.28 L770.53,1057.91 L771.01,1056.56 L771.50,1055.21 L771.98,1053.88 L772.47,1052.56 L772.96,1051.26 L773.44,1049.97 L773.93,1048.69 L774.41,1047.42 L774.90,1046.17 L775.38,1044.94 L775.87,1043.72 L776.36,1042.51 L776.84,1041.32 L777.33,1040.14 L777.81,1038.98 L778.30,1037.84 L778.79,1036.71 L779.27,1035.61 L779.76,1034.52 L780.24,1033.45 L780.73,1032.40 L781.21,1031.37 L781.70,1030.37 L782.19,1029.40 L782.67,1028.45 L783.16,1027.54 L783.64,1026.67 L784.13,1025.84 L784.61,1025.08 L785.10,1024.40 L785.59,1024.08 L786.07,1024.66 L786.56,1025.38 L787.04,1026.17 L787.53,1027.01 L788.01,1027.90 L788.50,1028.83 L788.99,1029.78 L789.47,1030.77 L789.96,1031.78 L790.44,1032.82 L790.93,1033.87 L791.41,1034.95 L791.90,1036.05 L792.39,1037.16 L792.87,1038.29 L793.36,1039.44 L793.84,1040.61 L794.33,1041.79 L794.81,1042.99 L795.30,1044.20 L795.79,1045.43 L796.27,1046.67 L796.76,1047.93 L797.24,1049.20 L797.73,1050.48 L798.22,1051.78 L798.70,1053.09 L799.19,1054.41 L799.67,1055.75 L800.16,1057.10 L800.64,1058.46 L801.13,1059.83 L801.62,1061.22 L802.10,1062.62 L802.59,1064.03 L803.07,1065.46 L803.56,1066.89 L804.04,1068.34 L804.53,1069.80 L805.02,1071.28 L805.50,1072.76 L805.99,1074.26 L806.47,1075.76 L806.96,1077.28 L807.44,1078.81 L807.93,1080.35 L808.42,1081.91 L808.90,1083.47 L809.39,1085.05 L809.87,1086.63 L810.36,1088.23 L810.84,1089.83 L811.33,1091.45 L811.82,1093.08 L812.30,1094.71 L812.79,1096.36 L813.27,1098.02 L813.76,1099.68 L814.24,1101.36 L814.73,1103.04 L815.22,1104.74 L815.70,1106.44 L816.19,1108.15 L816.67,1109.87 L817.16,1111.60 L817.65,1113.33 L818.13,1115.07 L818.62,1116.83 L819.10,1118.58 L819.59,1120.35 L820.07,1122.12 L820.56,1123.89 L821.05,1125.68 L821.53,1127.47 L822.02,1129.26 L822.50,1131.06 L822.99,1132.87 L823.47,1134.68 L823.96,1136.49 L824.45,1138.31 L824.93,1140.13 L825.42,1141.95 L825.90,1143.78 L826.39,1145.61 L826.87,1147.44 L827.36,1149.28 L827.85,1151.12 L828.33,1152.95 L828.82,1154.79 L829.30,1156.63 L829.79,1158.47 L830.27,1160.31 L830.76,1162.15 L831.25,1163.99 L831.73,1165.82 L832.22,1167.66 L832.70,1169.49 L833.19,1171.32 L833.67,1173.15 L834.16,1174.97 L834.65,1176.79 L835.13,1178.61 L835.62,1180.42 L836.10,1182.23 L836.59,1184.04 L837.08,1185.83 L837.56,1187.62 L838.05,1189.41 L838.53,1191.19 L839.02,1192.96 L839.50,1194.73 L839.99,1196.48 L840.48,1198.23 L840.96,1199.97 L841.45,1201.70 L841.93,1203.42 L842.42,1205.14 L842.90,1206.84 L843.39,1208.53 L843.88,1210.21 L844.36,1211.88 L844.85,1213.54 L845.33,1215.19 L845.82,1216.83 L846.30,1218.45 L846.79,1220.06 L847.28,1221.66 L847.76,1223.24 L848.25,1224.81 L848.73,1226.37 L849.22,1227.91 L849.70,1229.44 L850.19,1230.96 L850.68,1232.46 L851.16,1233.94 L851.65,1235.41 L852.13,1236.87 L852.62,1238.31 L853.10,1239.73 L853.59,1241.13 L854.08,1242.52 L854.56,1243.90 L855.05,1245.25 L855.53,1246.59 L856.02,1247.92 L856.51,1249.22 L856.99,1250.51 L857.48,1251.78 L857.96,1253.03 L858.45,1254.27 L858.93,1255.49 L859.42,1256.69 L859.91,1257.87 L860.39,1259.03 L860.88,1260.18 L861.36,1261.31 L861.85,1262.42 L862.33,1263.51 L862.82,1264.58 L863.31,1265.64 L863.79,1266.68 L864.28,1267.70 L864.76,1268.70 L865.25,1269.68 L865.73,1270.64 L866.22,1271.59 L866.71,1272.52 L867.19,1273.43 L867.68,1274.32 L868.16,1275.20 L868.65,1276.06 L869.13,1276.90 L869.62,1277.72 L870.11,1278.52 L870.59,1279.31 L871.08,1280.08 L871.56,1280.84 L872.05,1281.57 L872.53,1282.29 L873.02,1283.00 L873.51,1283.68 L873.99,1284.35 L874.48,1285.01 L874.96,1285.65 L875.45,1286.27 L875.94,1286.88 L876.42,1287.47 L876.91,1288.05 L877.39,1288.61 L877.88,1289.16 L878.36,1289.69 L878.85,1290.21 L879.34,1290.71 L879.82,1291.21 L880.31,1291.68 L880.79,1292.15 L881.28,1292.60 L881.76,1293.03 L882.25,1293.46 L882.74,1293.87 L883.22,1294.27 L883.71,1294.66 L884.19,1295.03 L884.68,1295.40 L885.16,1295.75 L885.65,1296.09 L886.14,1296.42 L886.62,1296.74 L887.11,1297.05 L887.59,1297.35 L888.08,1297.64 L888.56,1297.92 L889.05,1298.19 L889.54,1298.45 L890.02,1298.70 L890.51,1298.95 L890.99,1299.18 L891.48,1299.41 L891.96,1299.63 L892.45,1299.84 L892.94,1300.04 L893.42,1300.23 L893.91,1300.42 L894.39,1300.60 L894.88,1300.77 L895.37,1300.94 L895.85,1301.10 L896.34,1301.25 L896.82,1301.40 L897.31,1301.54 L897.79,1301.68 L898.28,1301.81 L898.77,1301.93 L899.25,1302.05 L899.74,1302.17 L900.22,1302.28 L900.71,1302.38 L901.19,1302.48 L901.68,1302.58 L902.17,1302.67 L902.65,1302.76 L903.14,1302.84 L903.62,1302.92 L904.11,1303.00 L904.59,1303.07 L905.08,1303.14 L905.57,1303.21 L906.05,1303.27 L906.54,1303.33 L907.02,1303.39 L907.51,1303.44 L907.99,1303.49 L908.48,1303.54 L908.97,1303.59 L909.45,1303.63 L909.94,1303.68 L910.42,1303.72 L910.91,1303.75 L911.39,1303.79 L911.88,1303.83 L912.37,1303.86 L912.85,1303.89 L913.34,1303.92 L913.82,1303.94 L914.31,1303.97 L914.80,1304.00 L915.28,1304.02 L915.77,1304.04 L916.25,1304.06 L916.74,1304.08 L917.22,1304.10 L917.71,1304.12 L918.20,1304.13 L918.68,1304.15 L919.17,1304.16 L919.65,1304.18 L920.14,1304.19 L920.62,1304.20 L921.11,1304.21 L921.60,1304.22 L922.08,1304.23 L922.57,1304.24 L923.05,1304.25 L923.54,1304.26 L924.02,1304.27 L924.51,1304.28 L925.00,1304.28 L925.48,1304.29 L925.97,1304.30 L926.45,1304.30 L926.94,1304.31 L927.42,1304.31 L927.91,1304.32 L928.40,1304.32 L928.88,1304.32 L929.37,1304.33 L929.85,1304.33 L930.34,1304.33 L930.82,1304.34 L931.31,1304.34 L931.80,1304.34 L932.28,1304.34 L932.77,1304.35 L933.25,1304.35 L933.74,1304.35 L934.23,1304.35 L934.71,1304.35 L935.20,1304.36 L935.68,1304.36 L936.17,1304.36 L936.65,1304.36 L937.14,1304.36 L937.63,1304.36 L938.11,1304.36 L938.60,1304.36 L939.08,1304.36 L939.57,1304.37 L940.05,1304.37 L940.54,1304.37 L941.03,1304.37 L941.51,1304.37 L942.00,1304.37 L942.48,1304.37 L942.97,1304.37 L943.45,1304.37 L943.94,1304.37 L944.43,1304.37 L944.91,1304.37 L945.40,1304.37 L945.88,1304.37 L946.37,1304.37 L946.85,1304.37 L947.34,1304.37 L947.83,1304.37 L948.31,1304.37 L948.80,1304.37 L949.28,1304.37 L949.77,1304.37 L950.25,1304.37 L950.74,1304.37 L951.23,1304.37 L951.71,1304.37 L952.20,1304.37 L952.68,1304.37 L953.17,1304.37 L953.66,1304.37 L954.14,1304.37 L954.63,1304.37 L955.11,1304.37 L955.60,1304.37 L956.08,1304.37 L956.57,1304.37 L957.06,1304.37 L957.54,1304.37 L958.03,1304.37 L958.51,1304.37 L959.00,1304.37 L959.48,1304.37 L959.97,1304.37 L960.46,1304.37 L960.94,1304.37 L961.43,1304.37 L961.91,1304.37 L962.40,1304.37 L962.88,1304.37 L963.37,1304.37 L963.86,1304.37 L964.34,1304.37 L964.83,1304.37 L965.31,1304.37 L965.80,1304.37 L966.28,1304.37 L966.77,1304.37 L967.26,1304.37 L967.74,1304.37 L968.23,1304.37 L968.71,1304.37 L969.20,1304.37 L969.68,1304.37 L970.17,1304.37 L970.66,1304.37 L971.14,1304.37 L971.63,1304.37 L972.11,1304.37 L972.60,1304.37 L973.09,1304.37 L973.57,1304.37 L974.06,1304.37 L974.54,1304.37 L975.03,1304.37 L975.51,1304.37 L976.00,1304.37 L976.49,1304.37 L976.97,1304.37 L977.46,1304.37 L977.94,1304.37 L978.43,1304.37 L978.91,1304.37 L979.40,1304.37" fill="none" stroke="#1c66da" stroke-width="3.0" stroke-linejoin="round"/>
<path d="M590.80,1304.37 L591.29,1304.37 L591.77,1304.37 L592.26,1304.37 L592.74,1304.37 L593.23,1304.37 L593.71,1304.37 L594.20,1304.37 L594.69,1304.37 L595.17,1304.37 L595.66,1304.37 L596.14,1304.37 L596.63,1304.37 L597.11,1304.37 L597.60,1304.37 L598.09,1304.37 L598.57,1304.37 L599.06,1304.37 L599.54,1304.37 L600.03,1304.37 L600.51,1304.37 L601.00,1304.37 L601.49,1304.37 L601.97,1304.37 L602.46,1304.37 L602.94,1304.37 L603.43,1304.37 L603.92,1304.37 L604.40,1304.37 L604.89,1304.37 L605.37,1304.37 L605.86,1304.37 L606.34,1304.37 L606.83,1304.37 L607.32,1304.37 L607.80,1304.37 L608.29,1304.37 L608.77,1304.37 L609.26,1304.37 L609.74,1304.37 L610.23,1304.37 L610.72,1304.37 L611.20,1304.37 L611.69,1304.37 L612.17,1304.37 L612.66,1304.37 L613.14,1304.37 L613.63,1304.37 L614.12,1304.37 L614.60,1304.37 L615.09,1304.37 L615.57,1304.37 L616.06,1304.37 L616.54,1304.37 L617.03,1304.37 L617.52,1304.37 L618.00,1304.37 L618.49,1304.37 L618.97,1304.37 L619.46,1304.37 L619.94,1304.37 L620.43,1304.37 L620.92,1304.37 L621.40,1304.37 L621.89,1304.37 L622.37,1304.37 L622.86,1304.37 L623.35,1304.37 L623.83,1304.37 L624.32,1304.37 L624.80,1304.37 L625.29,1304.37 L625.77,1304.37 L626.26,1304.37 L626.75,1304.37 L627.23,1304.37 L627.72,1304.37 L628.20,1304.37 L628.69,1304.37 L629.17,1304.37 L629.66,1304.37 L630.15,1304.37 L630.63,1304.37 L631.12,1304.37 L631.60,1304.37 L632.09,1304.37 L632.57,1304.37 L633.06,1304.37 L633.55,1304.37 L634.03,1304.36 L634.52,1304.36 L635.00,1304.36 L635.49,1304.36 L635.97,1304.36 L636.46,1304.36 L636.95,1304.36 L637.43,1304.36 L637.92,1304.35 L638.40,1304.35 L638.89,1304.35 L639.37,1304.35 L639.86,1304.35 L640.35,1304.35 L640.83,1304.34 L641.32,1304.34 L641.80,1304.34 L642.29,1304.33 L642.78,1304.33 L643.26,1304.33 L643.75,1304.32 L644.23,1304.32 L644.72,1304.32 L645.20,1304.31 L645.69,1304.31 L646.18,1304.30 L646.66,1304.30 L647.15,1304.29 L647.63,1304.28 L648.12,1304.28 L648.60,1304.27 L649.09,1304.26 L649.58,1304.25 L650.06,1304.24 L650.55,1304.23 L651.03,1304.22 L651.52,1304.21 L652.00,1304.20 L652.49,1304.19 L652.98,1304.18 L653.46,1304.16 L653.95,1304.15 L654.43,1304.13 L654.92,1304.11 L655.40,1304.10 L655.89,1304.08 L656.38,1304.06 L656.86,1304.04 L657.35,1304.01 L657.83,1303.99 L658.32,1303.96 L658.80,1303.94 L659.29,1303.91 L659.78,1303.88 L660.26,1303.85 L660.75,1303.81 L661.23,1303.78 L661.72,1303.74 L662.21,1303.70 L662.69,1303.66 L663.18,1303.62 L663.66,1303.57 L664.15,1303.52 L664.63,1303.47 L665.12,1303.42 L665.61,1303.36 L666.09,1303.30 L666.58,1303.24 L667.06,1303.18 L667.55,1303.11 L668.03,1303.04 L668.52,1302.96 L669.01,1302.88 L669.49,1302.80 L669.98,1302.71 L670.46,1302.62 L670.95,1302.52 L671.43,1302.42 L671.92,1302.32 L672.41,1302.21 L672.89,1302.10 L673.38,1301.98 L673.86,1301.85 L674.35,1301.72 L674.83,1301.59 L675.32,1301.45 L675.81,1301.30 L676.29,1301.15 L676.78,1300.99 L677.26,1300.82 L677.75,1300.65 L678.23,1300.46 L678.72,1300.28 L679.21,1300.08 L679.69,1299.88 L680.18,1299.67 L680.66,1299.45 L681.15,1299.22 L681.64,1298.99 L682.12,1298.74 L682.61,1298.49 L683.09,1298.23 L683.58,1297.95 L684.06,1297.67 L684.55,1297.38 L685.04,1297.08 L685.52,1296.77 L686.01,1296.44 L686.49,1296.11 L686.98,1295.76 L687.46,1295.41 L687.95,1295.04 L688.44,1294.66 L688.92,1294.26 L689.41,1293.86 L689.89,1293.44 L690.38,1293.01 L690.86,1292.57 L691.35,1292.11 L691.84,1291.64 L692.32,1291.16 L692.81,1290.66 L693.29,1290.15 L693.78,1289.62 L694.26,1289.08 L694.75,1288.52 L695.24,1287.95 L695.72,1287.36 L696.21,1286.76 L696.69,1286.14 L697.18,1285.51 L697.66,1284.86 L698.15,1284.19 L698.64,1283.51 L699.12,1282.81 L699.61,1282.09 L700.09,1281.36 L700.58,1280.61 L701.07,1279.84 L701.55,1279.06 L702.04,1278.25 L702.52,1277.43 L703.01,1276.59 L703.49,1275.74 L703.98,1274.86 L704.47,1273.97 L704.95,1273.06 L705.44,1272.13 L705.92,1271.18 L706.41,1270.22 L706.89,1269.23 L707.38,1268.23 L707.87,1267.21 L708.35,1266.17 L708.84,1265.11 L709.32,1264.03 L709.81,1262.93 L710.29,1261.82 L710.78,1260.69 L711.27,1259.53 L711.75,1258.36 L712.24,1257.17 L712.72,1255.97 L713.21,1254.74 L713.69,1253.50 L714.18,1252.24 L714.67,1250.96 L715.15,1249.66 L715.64,1248.34 L716.12,1247.01 L716.61,1245.66 L717.09,1244.29 L717.58,1242.91 L718.07,1241.50 L718.55,1240.09 L719.04,1238.65 L719.52,1237.20 L720.01,1235.73 L720.50,1234.25 L720.98,1232.75 L721.47,1231.23 L721.95,1229.70 L722.44,1228.16 L722.92,1226.60 L723.41,1225.02 L723.90,1223.43 L724.38,1221.83 L724.87,1220.22 L725.35,1218.59 L725.84,1216.95 L726.32,1215.29 L726.81,1213.62 L727.30,1211.95 L727.78,1210.25 L728.27,1208.55 L728.75,1206.84 L729.24,1205.12 L729.72,1203.39 L730.21,1201.64 L730.70,1199.89 L731.18,1198.13 L731.67,1196.36 L732.15,1194.58 L732.64,1192.79 L733.12,1191.00 L733.61,1189.20 L734.10,1187.39 L734.58,1185.58 L735.07,1183.76 L735.55,1181.93 L736.04,1180.10 L736.52,1178.27 L737.01,1176.43 L737.50,1174.58 L737.98,1172.74 L738.47,1170.89 L738.95,1169.03 L739.44,1167.18 L739.93,1165.32 L740.41,1163.46 L740.90,1161.60 L741.38,1159.74 L741.87,1157.88 L742.35,1156.02 L742.84,1154.15 L743.33,1152.29 L743.81,1150.43 L744.30,1148.58 L744.78,1146.72 L745.27,1144.87 L745.75,1143.02 L746.24,1141.17 L746.73,1139.32 L747.21,1137.48 L747.70,1135.64 L748.18,1133.81 L748.67,1131.98 L749.15,1130.16 L749.64,1128.34 L750.13,1126.52 L750.61,1124.72 L751.10,1122.92 L751.58,1121.12 L752.07,1119.33 L752.55,1117.55 L753.04,1115.78 L753.53,1114.01 L754.01,1112.25 L754.50,1110.50 L754.98,1108.76 L755.47,1107.02 L755.95,1105.30 L756.44,1103.58 L756.93,1101.87 L757.41,1100.18 L757.90,1098.49 L758.38,1096.81 L758.87,1095.14 L759.36,1093.48 L759.84,1091.83 L760.33,1090.19 L760.81,1088.56 L761.30,1086.95 L761.78,1085.34 L762.27,1083.74 L762.76,1082.16 L763.24,1080.59 L763.73,1079.02 L764.21,1077.47 L764.70,1075.94 L765.18,1074.41 L765.67,1072.89 L766.16,1071.39 L766.64,1069.90 L767.13,1068.42 L767.61,1066.95 L768.10,1065.50 L768.58,1064.06 L769.07,1062.63 L769.56,1061.21 L770.04,1059.81 L770.53,1058.42 L771.01,1057.04 L771.50,1055.67 L771.98,1054.32 L772.47,1052.98 L772.96,1051.66 L773.44,1050.35 L773.93,1049.05 L774.41,1047.77 L774.90,1046.50 L775.38,1045.24 L775.87,1044.01 L776.36,1042.78 L776.84,1041.57 L777.33,1040.38 L777.81,1039.20 L778.30,1038.04 L778.79,1036.90 L779.27,1035.77 L779.76,1034.67 L780.24,1033.58 L780.73,1032.52 L781.21,1031.48 L781.70,1030.46 L782.19,1029.48 L782.67,1028.52 L783.16,1027.59 L783.64,1026.71 L784.13,1025.87 L784.61,1025.09 L785.10,1024.41 L785.59,1024.08 L786.07,1024.67 L786.56,1025.40 L787.04,1026.20 L787.53,1027.06 L788.01,1027.96 L788.50,1028.90 L788.99,1029.87 L789.47,1030.87 L789.96,1031.89 L790.44,1032.94 L790.93,1034.02 L791.41,1035.11 L791.90,1036.22 L792.39,1037.35 L792.87,1038.50 L793.36,1039.67 L793.84,1040.85 L794.33,1042.05 L794.81,1043.27 L795.30,1044.50 L795.79,1045.74 L796.27,1047.01 L796.76,1048.28 L797.24,1049.57 L797.73,1050.87 L798.22,1052.19 L798.70,1053.52 L799.19,1054.86 L799.67,1056.22 L800.16,1057.59 L800.64,1058.97 L801.13,1060.37 L801.62,1061.78 L802.10,1063.20 L802.59,1064.63 L803.07,1066.08 L803.56,1067.54 L804.04,1069.01 L804.53,1070.49 L805.02,1071.99 L805.50,1073.50 L805.99,1075.02 L806.47,1076.55 L806.96,1078.09 L807.44,1079.65 L807.93,1081.21 L808.42,1082.79 L808.90,1084.38 L809.39,1085.98 L809.87,1087.59 L810.36,1089.21 L810.84,1090.85 L811.33,1092.49 L811.82,1094.14 L812.30,1095.80 L812.79,1097.48 L813.27,1099.16 L813.76,1100.85 L814.24,1102.56 L814.73,1104.27 L815.22,1105.99 L815.70,1107.72 L816.19,1109.45 L816.67,1111.20 L817.16,1112.95 L817.65,1114.72 L818.13,1116.49 L818.62,1118.26 L819.10,1120.05 L819.59,1121.84 L820.07,1123.64 L820.56,1125.44 L821.05,1127.25 L821.53,1129.06 L822.02,1130.89 L822.50,1132.71 L822.99,1134.54 L823.47,1136.38 L823.96,1138.22 L824.45,1140.06 L824.93,1141.91 L825.42,1143.76 L825.90,1145.61 L826.39,1147.46 L826.87,1149.32 L827.36,1151.18 L827.85,1153.04 L828.33,1154.90 L828.82,1156.76 L829.30,1158.62 L829.79,1160.48 L830.27,1162.34 L830.76,1164.20 L831.25,1166.06 L831.73,1167.92 L832.22,1169.77 L832.70,1171.63 L833.19,1173.47 L833.67,1175.32 L834.16,1177.16 L834.65,1179.00 L835.13,1180.83 L835.62,1182.66 L836.10,1184.49 L836.59,1186.30 L837.08,1188.12 L837.56,1189.92 L838.05,1191.72 L838.53,1193.51 L839.02,1195.29 L839.50,1197.07 L839.99,1198.83 L840.48,1200.59 L840.96,1202.34 L841.45,1204.08 L841.93,1205.81 L842.42,1207.53 L842.90,1209.24 L843.39,1210.93 L843.88,1212.62 L844.36,1214.29 L844.85,1215.95 L845.33,1217.60 L845.82,1219.24 L846.30,1220.86 L846.79,1222.47 L847.28,1224.07 L847.76,1225.65 L848.25,1227.22 L848.73,1228.78 L849.22,1230.32 L849.70,1231.84 L850.19,1233.35 L850.68,1234.84 L851.16,1236.32 L851.65,1237.78 L852.13,1239.23 L852.62,1240.66 L853.10,1242.07 L853.59,1243.46 L854.08,1244.84 L854.56,1246.20 L855.05,1247.55 L855.53,1248.87 L856.02,1250.18 L856.51,1251.47 L856.99,1252.74 L857.48,1254.00 L857.96,1255.23 L858.45,1256.45 L858.93,1257.65 L859.42,1258.83 L859.91,1260.00 L860.39,1261.14 L860.88,1262.27 L861.36,1263.37 L861.85,1264.46 L862.33,1265.53 L862.82,1266.58 L863.31,1267.62 L863.79,1268.63 L864.28,1269.63 L864.76,1270.60 L865.25,1271.56 L865.73,1272.50 L866.22,1273.43 L866.71,1274.33 L867.19,1275.21 L867.68,1276.08 L868.16,1276.93 L868.65,1277.76 L869.13,1278.58 L869.62,1279.37 L870.11,1280.15 L870.59,1280.91 L871.08,1281.66 L871.56,1282.38 L872.05,1283.09 L872.53,1283.79 L873.02,1284.46 L873.51,1285.12 L873.99,1285.77 L874.48,1286.39 L874.96,1287.00 L875.45,1287.60 L875.94,1288.18 L876.42,1288.75 L876.91,1289.30 L877.39,1289.83 L877.88,1290.35 L878.36,1290.86 L878.85,1291.35 L879.34,1291.83 L879.82,1292.30 L880.31,1292.75 L880.79,1293.19 L881.28,1293.61 L881.76,1294.02 L882.25,1294.42 L882.74,1294.81 L883.22,1295.19 L883.71,1295.55 L884.19,1295.90 L884.68,1296.24 L885.16,1296.57 L885.65,1296.89 L886.14,1297.20 L886.62,1297.50 L887.11,1297.79 L887.59,1298.06 L888.08,1298.33 L888.56,1298.59 L889.05,1298.84 L889.54,1299.08 L890.02,1299.31 L890.51,1299.54 L890.99,1299.75 L891.48,1299.96 L891.96,1300.16 L892.45,1300.35 L892.94,1300.54 L893.42,1300.72 L893.91,1300.89 L894.39,1301.05 L894.88,1301.21 L895.37,1301.36 L895.85,1301.50 L896.34,1301.64 L896.82,1301.78 L897.31,1301.90 L897.79,1302.03 L898.28,1302.14 L898.77,1302.25 L899.25,1302.36 L899.74,1302.46 L900.22,1302.56 L900.71,1302.66 L901.19,1302.75 L901.68,1302.83 L902.17,1302.91 L902.65,1302.99 L903.14,1303.06 L903.62,1303.14 L904.11,1303.20 L904.59,1303.27 L905.08,1303.33 L905.57,1303.39 L906.05,1303.44 L906.54,1303.49 L907.02,1303.54 L907.51,1303.59 L907.99,1303.64 L908.48,1303.68 L908.97,1303.72 L909.45,1303.76 L909.94,1303.79 L910.42,1303.83 L910.91,1303.86 L911.39,1303.89 L911.88,1303.92 L912.37,1303.95 L912.85,1303.97 L913.34,1304.00 L913.82,1304.02 L914.31,1304.04 L914.80,1304.07 L915.28,1304.08 L915.77,1304.10 L916.25,1304.12 L916.74,1304.14 L917.22,1304.15 L917.71,1304.17 L918.20,1304.18 L918.68,1304.19 L919.17,1304.21 L919.65,1304.22 L920.14,1304.23 L920.62,1304.24 L921.11,1304.25 L921.60,1304.26 L922.08,1304.26 L922.57,1304.27 L923.05,1304.28 L923.54,1304.29 L924.02,1304.29 L924.51,1304.30 L925.00,1304.30 L925.48,1304.31 L925.97,1304.31 L926.45,1304.32 L926.94,1304.32 L927.42,1304.33 L927.91,1304.33 L928.40,1304.33 L928.88,1304.34 L929.37,1304.34 L929.85,1304.34 L930.34,1304.34 L930.82,1304.35 L931.31,1304.35 L931.80,1304.35 L932.28,1304.35 L932.77,1304.35 L933.25,1304.36 L933.74,1304.36 L934.23,1304.36 L934.71,1304.36 L935.20,1304.36 L935.68,1304.36 L936.17,1304.36 L936.65,1304.36 L937.14,1304.36 L937.63,1304.37 L938.11,1304.37 L938.60,1304.37 L939.08,1304.37 L939.57,1304.37 L940.05,1304.37 L940.54,1304.37 L941.03,1304.37 L941.51,1304.37 L942.00,1304.37 L942.48,1304.37 L942.97,1304.37 L943.45,1304.37 L943.94,1304.37 L944.43,1304.37 L944.91,1304.37 L945.40,1304.37 L945.88,1304.37 L946.37,1304.37 L946.85,1304.37 L947.34,1304.37 L947.83,1304.37 L948.31,1304.37 L948.80,1304.37 L949.28,1304.37 L949.77,1304.37 L950.25,1304.37 L950.74,1304.37 L951.23,1304.37 L951.71,1304.37 L952.20,1304.37 L952.68,1304.37 L953.17,1304.37 L953.66,1304.37 L954.14,1304.37 L954.63,1304.37 L955.11,1304.37 L955.60,1304.37 L956.08,1304.37 L956.57,1304.37 L957.06,1304.37 L957.54,1304.37 L958.03,1304.37 L958.51,1304.37 L959.00,1304.37 L959.48,1304.37 L959.97,1304.37 L960.46,1304.37 L960.94,1304.37 L961.43,1304.37 L961.91,1304.37 L962.40,1304.37 L962.88,1304.37 L963.37,1304.37 L963.86,1304.37 L964.34,1304.37 L964.83,1304.37 L965.31,1304.37 L965.80,1304.37 L966.28,1304.37 L966.77,1304.37 L967.26,1304.37 L967.74,1304.37 L968.23,1304.37 L968.71,1304.37 L969.20,1304.37 L969.68,1304.37 L970.17,1304.37 L970.66,1304.37 L971.14,1304.37 L971.63,1304.37 L972.11,1304.37 L972.60,1304.37 L973.09,1304.37 L973.57,1304.37 L974.06,1304.37 L974.54,1304.37 L975.03,1304.37 L975.51,1304.37 L976.00,1304.37 L976.49,1304.37 L976.97,1304.37 L977.46,1304.37 L977.94,1304.37 L978.43,1304.37 L978.91,1304.37 L979.40,1304.37" fill="none" stroke="#2fa86e" stroke-width="3.0" stroke-linejoin="round"/>
<line x1="590.80" y1="996.00" x2="590.80" y2="1309.20" stroke="#000" stroke-width="2.30" stroke-linecap="butt"/>
<line x1="589.70" y1="1308.10" x2="979.40" y2="1308.10" stroke="#000" stroke-width="2.60" stroke-linecap="butt"/>
<text x="584.60" y="1314.00" font-size="27.50" text-anchor="end">0.0</text>
<line x1="590.80" y1="1249.20" x2="597.30" y2="1249.20" stroke="#000" stroke-width="2.20" stroke-linecap="butt"/>
<text x="584.60" y="1257.70" font-size="27.50" text-anchor="end">0.2</text>
<line x1="590.80" y1="1192.90" x2="597.30" y2="1192.90" stroke="#000" stroke-width="2.20" stroke-linecap="butt"/>
<text x="584.60" y="1201.40" font-size="27.50" text-anchor="end">0.4</text>
<line x1="590.80" y1="1136.60" x2="597.30" y2="1136.60" stroke="#000" stroke-width="2.20" stroke-linecap="butt"/>
<text x="584.60" y="1145.10" font-size="27.50" text-anchor="end">0.6</text>
<line x1="590.80" y1="1080.30" x2="597.30" y2="1080.30" stroke="#000" stroke-width="2.20" stroke-linecap="butt"/>
<text x="584.60" y="1088.80" font-size="27.50" text-anchor="end">0.8</text>
<line x1="590.80" y1="1024.00" x2="597.30" y2="1024.00" stroke="#000" stroke-width="2.20" stroke-linecap="butt"/>
<text x="584.60" y="1032.50" font-size="27.50" text-anchor="end">1.0</text>
<line x1="590.80" y1="1277.35" x2="594.40" y2="1277.35" stroke="#000" stroke-width="2.00" stroke-linecap="butt"/>
<line x1="590.80" y1="1221.05" x2="594.40" y2="1221.05" stroke="#000" stroke-width="2.00" stroke-linecap="butt"/>
<line x1="590.80" y1="1164.75" x2="594.40" y2="1164.75" stroke="#000" stroke-width="2.00" stroke-linecap="butt"/>
<line x1="590.80" y1="1108.45" x2="594.40" y2="1108.45" stroke="#000" stroke-width="2.00" stroke-linecap="butt"/>
<line x1="590.80" y1="1052.15" x2="594.40" y2="1052.15" stroke="#000" stroke-width="2.00" stroke-linecap="butt"/>
<line x1="629.66" y1="1308.10" x2="629.66" y2="1314.10" stroke="#000" stroke-width="2.40" stroke-linecap="butt"/>
<text x="628.86" y="1339.20" font-size="27.50" text-anchor="middle">-4</text>
<line x1="707.38" y1="1308.10" x2="707.38" y2="1314.10" stroke="#000" stroke-width="2.40" stroke-linecap="butt"/>
<text x="706.58" y="1339.20" font-size="27.50" text-anchor="middle">-2</text>
<line x1="785.10" y1="1308.10" x2="785.10" y2="1314.10" stroke="#000" stroke-width="2.40" stroke-linecap="butt"/>
<text x="785.10" y="1339.20" font-size="27.50" text-anchor="middle">0</text>
<line x1="862.82" y1="1308.10" x2="862.82" y2="1314.10" stroke="#000" stroke-width="2.40" stroke-linecap="butt"/>
<text x="862.82" y="1339.20" font-size="27.50" text-anchor="middle">2</text>
<line x1="940.54" y1="1308.10" x2="940.54" y2="1314.10" stroke="#000" stroke-width="2.40" stroke-linecap="butt"/>
<text x="940.54" y="1339.20" font-size="27.50" text-anchor="middle">4</text>
<line x1="668.52" y1="1308.10" x2="668.52" y2="1311.30" stroke="#000" stroke-width="2.20" stroke-linecap="butt"/>
<line x1="746.24" y1="1308.10" x2="746.24" y2="1311.30" stroke="#000" stroke-width="2.20" stroke-linecap="butt"/>
<line x1="823.96" y1="1308.10" x2="823.96" y2="1311.30" stroke="#000" stroke-width="2.20" stroke-linecap="butt"/>
<line x1="901.68" y1="1308.10" x2="901.68" y2="1311.30" stroke="#000" stroke-width="2.20" stroke-linecap="butt"/>
<text x="658.40" y="1371.50" font-size="40.00" text-anchor="start" textLength="252.0" lengthAdjust="spacingAndGlyphs">Time delay (ps)</text>
<text transform="translate(534.00,1152.60) rotate(-90)" font-size="38.80" text-anchor="middle" textLength="240.2" lengthAdjust="spacingAndGlyphs">Intensity (a.u.)</text>
<rect x="145.60" y="996.00" width="833.80" height="672.30" fill="none" stroke="#000" stroke-width="4.40"/>
<text x="130.30" y="1673.90" font-size="38.50" text-anchor="end">0</text>
<line x1="145.60" y1="1551.50" x2="158.30" y2="1551.50" stroke="#000" stroke-width="4.20" stroke-linecap="butt"/>
<text x="130.30" y="1562.70" font-size="38.50" text-anchor="end">1</text>
<line x1="145.60" y1="1440.30" x2="158.30" y2="1440.30" stroke="#000" stroke-width="4.20" stroke-linecap="butt"/>
<text x="130.30" y="1451.50" font-size="38.50" text-anchor="end">2</text>
<line x1="145.60" y1="1329.10" x2="158.30" y2="1329.10" stroke="#000" stroke-width="4.20" stroke-linecap="butt"/>
<text x="130.30" y="1340.30" font-size="38.50" text-anchor="end">3</text>
<line x1="145.60" y1="1217.90" x2="158.30" y2="1217.90" stroke="#000" stroke-width="4.20" stroke-linecap="butt"/>
<text x="130.30" y="1229.10" font-size="38.50" text-anchor="end">4</text>
<line x1="145.60" y1="1106.70" x2="158.30" y2="1106.70" stroke="#000" stroke-width="4.20" stroke-linecap="butt"/>
<text x="130.30" y="1117.90" font-size="38.50" text-anchor="end">5</text>
<text x="130.30" y="1006.70" font-size="38.50" text-anchor="end">6</text>
<line x1="145.60" y1="1607.10" x2="151.90" y2="1607.10" stroke="#000" stroke-width="4.00" stroke-linecap="butt"/>
<line x1="145.60" y1="1495.90" x2="151.90" y2="1495.90" stroke="#000" stroke-width="4.00" stroke-linecap="butt"/>
<line x1="145.60" y1="1384.70" x2="151.90" y2="1384.70" stroke="#000" stroke-width="4.00" stroke-linecap="butt"/>
<line x1="145.60" y1="1273.50" x2="151.90" y2="1273.50" stroke="#000" stroke-width="4.00" stroke-linecap="butt"/>
<line x1="145.60" y1="1162.30" x2="151.90" y2="1162.30" stroke="#000" stroke-width="4.00" stroke-linecap="butt"/>
<line x1="145.60" y1="1051.10" x2="151.90" y2="1051.10" stroke="#000" stroke-width="4.00" stroke-linecap="butt"/>
<line x1="145.60" y1="1668.30" x2="145.60" y2="1680.70" stroke="#000" stroke-width="4.60" stroke-linecap="butt"/>
<text x="145.30" y="1719.20" font-size="38.50" text-anchor="middle">1020</text>
<line x1="312.36" y1="1668.30" x2="312.36" y2="1680.70" stroke="#000" stroke-width="4.60" stroke-linecap="butt"/>
<text x="312.06" y="1719.20" font-size="38.50" text-anchor="middle">1025</text>
<line x1="479.12" y1="1668.30" x2="479.12" y2="1680.70" stroke="#000" stroke-width="4.60" stroke-linecap="butt"/>
<text x="478.82" y="1719.20" font-size="38.50" text-anchor="middle">1030</text>
<line x1="645.88" y1="1668.30" x2="645.88" y2="1680.70" stroke="#000" stroke-width="4.60" stroke-linecap="butt"/>
<text x="645.58" y="1719.20" font-size="38.50" text-anchor="middle">1035</text>
<line x1="812.64" y1="1668.30" x2="812.64" y2="1680.70" stroke="#000" stroke-width="4.60" stroke-linecap="butt"/>
<text x="812.34" y="1719.20" font-size="38.50" text-anchor="middle">1040</text>
<line x1="979.40" y1="1668.30" x2="979.40" y2="1680.70" stroke="#000" stroke-width="4.60" stroke-linecap="butt"/>
<text x="979.10" y="1719.20" font-size="38.50" text-anchor="middle">1045</text>
<line x1="228.98" y1="1668.30" x2="228.98" y2="1673.90" stroke="#000" stroke-width="4.00" stroke-linecap="butt"/>
<line x1="395.74" y1="1668.30" x2="395.74" y2="1673.90" stroke="#000" stroke-width="4.00" stroke-linecap="butt"/>
<line x1="562.50" y1="1668.30" x2="562.50" y2="1673.90" stroke="#000" stroke-width="4.00" stroke-linecap="butt"/>
<line x1="729.26" y1="1668.30" x2="729.26" y2="1673.90" stroke="#000" stroke-width="4.00" stroke-linecap="butt"/>
<line x1="896.02" y1="1668.30" x2="896.02" y2="1673.90" stroke="#000" stroke-width="4.00" stroke-linecap="butt"/>
<text x="562.00" y="1791.30" font-size="48.50" text-anchor="middle" textLength="356" lengthAdjust="spacingAndGlyphs">Wavelength (nm)</text>
<text transform="translate(89.20,1330.90) rotate(-90)" font-size="48.00" text-anchor="middle">Intensity (a.u.)</text>
<text x="33.70" y="981.40" font-size="48.00" text-anchor="start">(b)</text>
<line x1="174.80" y1="1040.60" x2="250.40" y2="1040.60" stroke="#505050" stroke-width="4.60" stroke-linecap="round"/>
<text x="260.30" y="1052.30" font-size="33.50" text-anchor="start" textLength="133.6" lengthAdjust="spacingAndGlyphs">15.8 mW</text>
<line x1="174.80" y1="1084.40" x2="250.40" y2="1084.40" stroke="#ef3f3f" stroke-width="4.60" stroke-linecap="round"/>
<text x="260.30" y="1096.10" font-size="33.50" text-anchor="start" textLength="133.6" lengthAdjust="spacingAndGlyphs">24.7 mW</text>
<line x1="174.80" y1="1128.00" x2="250.40" y2="1128.00" stroke="#1c66da" stroke-width="4.60" stroke-linecap="round"/>
<text x="260.30" y="1139.70" font-size="33.50" text-anchor="start" textLength="133.6" lengthAdjust="spacingAndGlyphs">36.8 mW</text>
<line x1="174.80" y1="1171.70" x2="250.40" y2="1171.70" stroke="#2fa86e" stroke-width="4.60" stroke-linecap="round"/>
<text x="260.30" y="1183.40" font-size="33.50" text-anchor="start" textLength="133.6" lengthAdjust="spacingAndGlyphs">46.5 mW</text></svg>
</body></html>
